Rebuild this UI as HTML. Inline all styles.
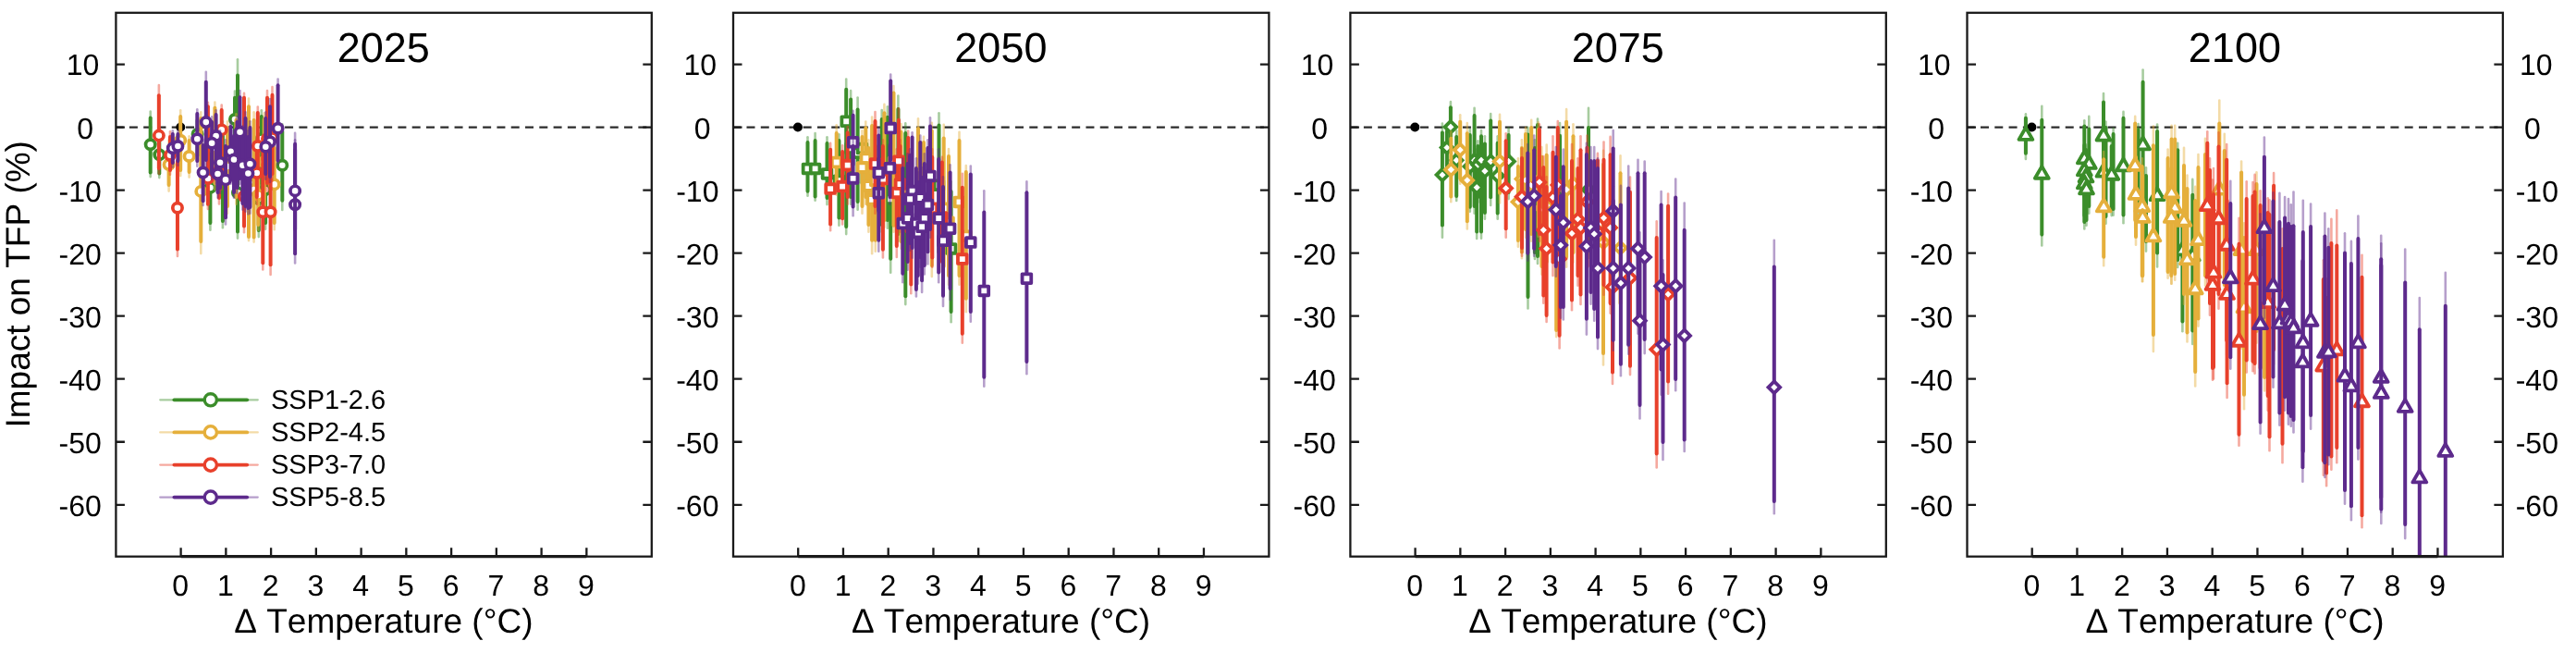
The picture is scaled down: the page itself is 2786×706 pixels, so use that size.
<!DOCTYPE html>
<html lang="en"><head><meta charset="utf-8"><title>Impact on TFP vs temperature</title>
<style>html,body{margin:0;padding:0;background:#fff}body{width:2786px;height:706px;overflow:hidden}svg{display:block;will-change:transform;font-kerning:none;text-rendering:geometricPrecision}</style></head>
<body>
<svg width="2786" height="706" viewBox="0 0 2786 706" font-family='"Liberation Sans", Arial, Helvetica, sans-serif' fill="#000">
<rect width="2786" height="706" fill="#fff"/>
<defs>
<clipPath id="c0"><rect x="125.4" y="13.8" width="579.4" height="587.9"/></clipPath>
<clipPath id="c1"><rect x="793" y="13.8" width="579.4" height="587.9"/></clipPath>
<clipPath id="c2"><rect x="1460.4" y="13.8" width="579.4" height="587.9"/></clipPath>
<clipPath id="c3"><rect x="2127.5" y="13.8" width="579.4" height="587.9"/></clipPath>
</defs>
<g clip-path="url(#c0)">
<line x1="125.4" y1="137.7" x2="704.8" y2="137.7" stroke="#2b2b2b" stroke-width="2.2" stroke-dasharray="9 6.29" stroke-dashoffset="0.8"/>
<circle cx="195.3" cy="137.5" r="5" fill="#000"/>
<line x1="162.7" y1="120.6" x2="162.7" y2="191.1" stroke="#3B8D2A" stroke-width="2.6" stroke-linecap="round" stroke-opacity="0.45"/>
<line x1="172.3" y1="143.3" x2="172.3" y2="192.1" stroke="#3B8D2A" stroke-width="2.6" stroke-linecap="round" stroke-opacity="0.45"/>
<line x1="213.6" y1="126.3" x2="213.6" y2="173.7" stroke="#3B8D2A" stroke-width="2.6" stroke-linecap="round" stroke-opacity="0.45"/>
<line x1="227.4" y1="151.3" x2="227.4" y2="248.7" stroke="#3B8D2A" stroke-width="2.6" stroke-linecap="round" stroke-opacity="0.45"/>
<line x1="240.9" y1="131.3" x2="240.9" y2="246.2" stroke="#3B8D2A" stroke-width="2.6" stroke-linecap="round" stroke-opacity="0.45"/>
<line x1="254" y1="98.6" x2="254" y2="170.7" stroke="#3B8D2A" stroke-width="2.6" stroke-linecap="round" stroke-opacity="0.45"/>
<line x1="257" y1="64.2" x2="257" y2="257.6" stroke="#3B8D2A" stroke-width="2.6" stroke-linecap="round" stroke-opacity="0.45"/>
<line x1="282.8" y1="119.3" x2="282.8" y2="203.7" stroke="#3B8D2A" stroke-width="2.6" stroke-linecap="round" stroke-opacity="0.45"/>
<line x1="279.8" y1="171.3" x2="279.8" y2="256.1" stroke="#3B8D2A" stroke-width="2.6" stroke-linecap="round" stroke-opacity="0.45"/>
<line x1="287.1" y1="161.3" x2="287.1" y2="247.7" stroke="#3B8D2A" stroke-width="2.6" stroke-linecap="round" stroke-opacity="0.45"/>
<line x1="305.3" y1="134.3" x2="305.3" y2="227" stroke="#3B8D2A" stroke-width="2.6" stroke-linecap="round" stroke-opacity="0.45"/>
<line x1="162.7" y1="127.6" x2="162.7" y2="186.5" stroke="#3B8D2A" stroke-width="4.0" stroke-linecap="round"/>
<line x1="172.3" y1="149" x2="172.3" y2="187.5" stroke="#3B8D2A" stroke-width="4.0" stroke-linecap="round"/>
<line x1="213.6" y1="130" x2="213.6" y2="168" stroke="#3B8D2A" stroke-width="4.0" stroke-linecap="round"/>
<line x1="227.4" y1="160" x2="227.4" y2="241" stroke="#3B8D2A" stroke-width="4.0" stroke-linecap="round"/>
<line x1="240.9" y1="140" x2="240.9" y2="239" stroke="#3B8D2A" stroke-width="4.0" stroke-linecap="round"/>
<line x1="254" y1="105.7" x2="254" y2="163" stroke="#3B8D2A" stroke-width="4.0" stroke-linecap="round"/>
<line x1="257" y1="81.4" x2="257" y2="250.5" stroke="#3B8D2A" stroke-width="4.0" stroke-linecap="round"/>
<line x1="282.8" y1="126" x2="282.8" y2="198" stroke="#3B8D2A" stroke-width="4.0" stroke-linecap="round"/>
<line x1="279.8" y1="182" x2="279.8" y2="249" stroke="#3B8D2A" stroke-width="4.0" stroke-linecap="round"/>
<line x1="287.1" y1="168" x2="287.1" y2="241" stroke="#3B8D2A" stroke-width="4.0" stroke-linecap="round"/>
<line x1="305.3" y1="142" x2="305.3" y2="216.8" stroke="#3B8D2A" stroke-width="4.0" stroke-linecap="round"/>
<circle cx="162.7" cy="156.3" r="5.15" fill="#fff" stroke="#3B8D2A" stroke-width="3.7"/>
<circle cx="172.3" cy="167.2" r="5.15" fill="#fff" stroke="#3B8D2A" stroke-width="3.7"/>
<circle cx="213.6" cy="144.9" r="5.15" fill="#fff" stroke="#3B8D2A" stroke-width="3.7"/>
<circle cx="227.4" cy="202.9" r="5.15" fill="#fff" stroke="#3B8D2A" stroke-width="3.7"/>
<circle cx="240.9" cy="185" r="5.15" fill="#fff" stroke="#3B8D2A" stroke-width="3.7"/>
<circle cx="254" cy="129" r="5.15" fill="#fff" stroke="#3B8D2A" stroke-width="3.7"/>
<circle cx="257" cy="208.4" r="5.15" fill="#fff" stroke="#3B8D2A" stroke-width="3.7"/>
<circle cx="282.8" cy="150" r="5.15" fill="#fff" stroke="#3B8D2A" stroke-width="3.7"/>
<circle cx="279.8" cy="215" r="5.15" fill="#fff" stroke="#3B8D2A" stroke-width="3.7"/>
<circle cx="287.1" cy="205" r="5.15" fill="#fff" stroke="#3B8D2A" stroke-width="3.7"/>
<circle cx="305.3" cy="178.8" r="5.15" fill="#fff" stroke="#3B8D2A" stroke-width="3.7"/>
<line x1="182.6" y1="151.3" x2="182.6" y2="206.6" stroke="#E5AF3B" stroke-width="2.6" stroke-linecap="round" stroke-opacity="0.45"/>
<line x1="195.2" y1="119.3" x2="195.2" y2="190.1" stroke="#E5AF3B" stroke-width="2.6" stroke-linecap="round" stroke-opacity="0.45"/>
<line x1="204.6" y1="147.2" x2="204.6" y2="191.6" stroke="#E5AF3B" stroke-width="2.6" stroke-linecap="round" stroke-opacity="0.45"/>
<line x1="217.3" y1="121.3" x2="217.3" y2="274.1" stroke="#E5AF3B" stroke-width="2.6" stroke-linecap="round" stroke-opacity="0.45"/>
<line x1="232.4" y1="110.5" x2="232.4" y2="204.7" stroke="#E5AF3B" stroke-width="2.6" stroke-linecap="round" stroke-opacity="0.45"/>
<line x1="246" y1="131.3" x2="246" y2="230.7" stroke="#E5AF3B" stroke-width="2.6" stroke-linecap="round" stroke-opacity="0.45"/>
<line x1="255.4" y1="123.3" x2="255.4" y2="220.7" stroke="#E5AF3B" stroke-width="2.6" stroke-linecap="round" stroke-opacity="0.45"/>
<line x1="269" y1="106.5" x2="269" y2="260.1" stroke="#E5AF3B" stroke-width="2.6" stroke-linecap="round" stroke-opacity="0.45"/>
<line x1="274.6" y1="121.3" x2="274.6" y2="261.6" stroke="#E5AF3B" stroke-width="2.6" stroke-linecap="round" stroke-opacity="0.45"/>
<line x1="279.3" y1="151.3" x2="279.3" y2="248.7" stroke="#E5AF3B" stroke-width="2.6" stroke-linecap="round" stroke-opacity="0.45"/>
<line x1="285.8" y1="122.3" x2="285.8" y2="230.7" stroke="#E5AF3B" stroke-width="2.6" stroke-linecap="round" stroke-opacity="0.45"/>
<line x1="296.7" y1="151.3" x2="296.7" y2="248.2" stroke="#E5AF3B" stroke-width="2.6" stroke-linecap="round" stroke-opacity="0.45"/>
<line x1="182.6" y1="158" x2="182.6" y2="199.9" stroke="#E5AF3B" stroke-width="4.0" stroke-linecap="round"/>
<line x1="195.2" y1="126" x2="195.2" y2="184" stroke="#E5AF3B" stroke-width="4.0" stroke-linecap="round"/>
<line x1="204.6" y1="152" x2="204.6" y2="186" stroke="#E5AF3B" stroke-width="4.0" stroke-linecap="round"/>
<line x1="217.3" y1="128" x2="217.3" y2="260.9" stroke="#E5AF3B" stroke-width="4.0" stroke-linecap="round"/>
<line x1="232.4" y1="116.7" x2="232.4" y2="198" stroke="#E5AF3B" stroke-width="4.0" stroke-linecap="round"/>
<line x1="246" y1="138" x2="246" y2="223" stroke="#E5AF3B" stroke-width="4.0" stroke-linecap="round"/>
<line x1="255.4" y1="130" x2="255.4" y2="213" stroke="#E5AF3B" stroke-width="4.0" stroke-linecap="round"/>
<line x1="269" y1="115.2" x2="269" y2="255.9" stroke="#E5AF3B" stroke-width="4.0" stroke-linecap="round"/>
<line x1="274.6" y1="130" x2="274.6" y2="256.4" stroke="#E5AF3B" stroke-width="4.0" stroke-linecap="round"/>
<line x1="279.3" y1="160" x2="279.3" y2="243" stroke="#E5AF3B" stroke-width="4.0" stroke-linecap="round"/>
<line x1="285.8" y1="129" x2="285.8" y2="223" stroke="#E5AF3B" stroke-width="4.0" stroke-linecap="round"/>
<line x1="296.7" y1="160" x2="296.7" y2="241" stroke="#E5AF3B" stroke-width="4.0" stroke-linecap="round"/>
<circle cx="182.6" cy="178" r="5.15" fill="#fff" stroke="#E5AF3B" stroke-width="3.7"/>
<circle cx="195.2" cy="151.8" r="5.15" fill="#fff" stroke="#E5AF3B" stroke-width="3.7"/>
<circle cx="204.6" cy="169" r="5.15" fill="#fff" stroke="#E5AF3B" stroke-width="3.7"/>
<circle cx="217.3" cy="206.9" r="5.15" fill="#fff" stroke="#E5AF3B" stroke-width="3.7"/>
<circle cx="232.4" cy="160" r="5.15" fill="#fff" stroke="#E5AF3B" stroke-width="3.7"/>
<circle cx="246" cy="180" r="5.15" fill="#fff" stroke="#E5AF3B" stroke-width="3.7"/>
<circle cx="255.4" cy="170" r="5.15" fill="#fff" stroke="#E5AF3B" stroke-width="3.7"/>
<circle cx="269" cy="190" r="5.15" fill="#fff" stroke="#E5AF3B" stroke-width="3.7"/>
<circle cx="274.6" cy="205" r="5.15" fill="#fff" stroke="#E5AF3B" stroke-width="3.7"/>
<circle cx="279.3" cy="210.9" r="5.15" fill="#fff" stroke="#E5AF3B" stroke-width="3.7"/>
<circle cx="285.8" cy="175" r="5.15" fill="#fff" stroke="#E5AF3B" stroke-width="3.7"/>
<circle cx="296.7" cy="199.4" r="5.15" fill="#fff" stroke="#E5AF3B" stroke-width="3.7"/>
<line x1="171.85" y1="92.1" x2="171.85" y2="187.7" stroke="#E8402B" stroke-width="2.6" stroke-linecap="round" stroke-opacity="0.45"/>
<line x1="184" y1="142.2" x2="184" y2="188.7" stroke="#E8402B" stroke-width="2.6" stroke-linecap="round" stroke-opacity="0.45"/>
<line x1="191.95" y1="166.3" x2="191.95" y2="277" stroke="#E8402B" stroke-width="2.6" stroke-linecap="round" stroke-opacity="0.45"/>
<line x1="224.9" y1="110.8" x2="224.9" y2="226" stroke="#E8402B" stroke-width="2.6" stroke-linecap="round" stroke-opacity="0.45"/>
<line x1="237" y1="151.3" x2="237" y2="220.5" stroke="#E8402B" stroke-width="2.6" stroke-linecap="round" stroke-opacity="0.45"/>
<line x1="239.7" y1="113.5" x2="239.7" y2="204.7" stroke="#E8402B" stroke-width="2.6" stroke-linecap="round" stroke-opacity="0.45"/>
<line x1="264" y1="100.8" x2="264" y2="251.2" stroke="#E8402B" stroke-width="2.6" stroke-linecap="round" stroke-opacity="0.45"/>
<line x1="278.8" y1="115.5" x2="278.8" y2="190.7" stroke="#E8402B" stroke-width="2.6" stroke-linecap="round" stroke-opacity="0.45"/>
<line x1="277.8" y1="151.3" x2="277.8" y2="220.7" stroke="#E8402B" stroke-width="2.6" stroke-linecap="round" stroke-opacity="0.45"/>
<line x1="284.3" y1="151.3" x2="284.3" y2="291.5" stroke="#E8402B" stroke-width="2.6" stroke-linecap="round" stroke-opacity="0.45"/>
<line x1="289" y1="98.1" x2="289" y2="206.7" stroke="#E8402B" stroke-width="2.6" stroke-linecap="round" stroke-opacity="0.45"/>
<line x1="292.6" y1="161.3" x2="292.6" y2="296.9" stroke="#E8402B" stroke-width="2.6" stroke-linecap="round" stroke-opacity="0.45"/>
<line x1="294.5" y1="94.1" x2="294.5" y2="195.7" stroke="#E8402B" stroke-width="2.6" stroke-linecap="round" stroke-opacity="0.45"/>
<line x1="171.85" y1="103.3" x2="171.85" y2="182" stroke="#E8402B" stroke-width="4.0" stroke-linecap="round"/>
<line x1="184" y1="148" x2="184" y2="184" stroke="#E8402B" stroke-width="4.0" stroke-linecap="round"/>
<line x1="191.95" y1="174" x2="191.95" y2="269.4" stroke="#E8402B" stroke-width="4.0" stroke-linecap="round"/>
<line x1="224.9" y1="115.2" x2="224.9" y2="220.8" stroke="#E8402B" stroke-width="4.0" stroke-linecap="round"/>
<line x1="237" y1="158" x2="237" y2="214" stroke="#E8402B" stroke-width="4.0" stroke-linecap="round"/>
<line x1="239.7" y1="119" x2="239.7" y2="198" stroke="#E8402B" stroke-width="4.0" stroke-linecap="round"/>
<line x1="264" y1="105.7" x2="264" y2="244.5" stroke="#E8402B" stroke-width="4.0" stroke-linecap="round"/>
<line x1="278.8" y1="122" x2="278.8" y2="183" stroke="#E8402B" stroke-width="4.0" stroke-linecap="round"/>
<line x1="277.8" y1="158" x2="277.8" y2="213" stroke="#E8402B" stroke-width="4.0" stroke-linecap="round"/>
<line x1="284.3" y1="162" x2="284.3" y2="284.3" stroke="#E8402B" stroke-width="4.0" stroke-linecap="round"/>
<line x1="289" y1="105.7" x2="289" y2="198" stroke="#E8402B" stroke-width="4.0" stroke-linecap="round"/>
<line x1="292.6" y1="174" x2="292.6" y2="286.3" stroke="#E8402B" stroke-width="4.0" stroke-linecap="round"/>
<line x1="294.5" y1="102.8" x2="294.5" y2="188" stroke="#E8402B" stroke-width="4.0" stroke-linecap="round"/>
<circle cx="171.85" cy="146.6" r="5.15" fill="#fff" stroke="#E8402B" stroke-width="3.7"/>
<circle cx="184" cy="167.7" r="5.15" fill="#fff" stroke="#E8402B" stroke-width="3.7"/>
<circle cx="191.95" cy="224.8" r="5.15" fill="#fff" stroke="#E8402B" stroke-width="3.7"/>
<circle cx="224.9" cy="192.9" r="5.15" fill="#fff" stroke="#E8402B" stroke-width="3.7"/>
<circle cx="237" cy="185" r="5.15" fill="#fff" stroke="#E8402B" stroke-width="3.7"/>
<circle cx="239.7" cy="140.4" r="5.15" fill="#fff" stroke="#E8402B" stroke-width="3.7"/>
<circle cx="264" cy="212.3" r="5.15" fill="#fff" stroke="#E8402B" stroke-width="3.7"/>
<circle cx="278.8" cy="158" r="5.15" fill="#fff" stroke="#E8402B" stroke-width="3.7"/>
<circle cx="277.8" cy="187" r="5.15" fill="#fff" stroke="#E8402B" stroke-width="3.7"/>
<circle cx="284.3" cy="229.3" r="5.15" fill="#fff" stroke="#E8402B" stroke-width="3.7"/>
<circle cx="289" cy="150" r="5.15" fill="#fff" stroke="#E8402B" stroke-width="3.7"/>
<circle cx="292.6" cy="229.3" r="5.15" fill="#fff" stroke="#E8402B" stroke-width="3.7"/>
<circle cx="294.5" cy="149" r="5.15" fill="#fff" stroke="#E8402B" stroke-width="3.7"/>
<line x1="319.1" y1="151.3" x2="319.1" y2="284.5" stroke="#5D2A8C" stroke-width="2.6" stroke-linecap="round" stroke-opacity="0.45"/>
<line x1="319.1" y1="162" x2="319.1" y2="274.3" stroke="#5D2A8C" stroke-width="4.0" stroke-linecap="round"/>
<circle cx="319.1" cy="221.3" r="5.15" fill="#fff" stroke="#5D2A8C" stroke-width="3.7"/>
<line x1="186.8" y1="141.3" x2="186.8" y2="180.7" stroke="#5D2A8C" stroke-width="2.6" stroke-linecap="round" stroke-opacity="0.45"/>
<line x1="192.4" y1="141.3" x2="192.4" y2="178.7" stroke="#5D2A8C" stroke-width="2.6" stroke-linecap="round" stroke-opacity="0.45"/>
<line x1="213.3" y1="118.3" x2="213.3" y2="179.7" stroke="#5D2A8C" stroke-width="2.6" stroke-linecap="round" stroke-opacity="0.45"/>
<line x1="222.8" y1="77.7" x2="222.8" y2="180.7" stroke="#5D2A8C" stroke-width="2.6" stroke-linecap="round" stroke-opacity="0.45"/>
<line x1="219.6" y1="151.3" x2="219.6" y2="222" stroke="#5D2A8C" stroke-width="2.6" stroke-linecap="round" stroke-opacity="0.45"/>
<line x1="233.6" y1="119.3" x2="233.6" y2="198.7" stroke="#5D2A8C" stroke-width="2.6" stroke-linecap="round" stroke-opacity="0.45"/>
<line x1="229.1" y1="126.3" x2="229.1" y2="193.7" stroke="#5D2A8C" stroke-width="2.6" stroke-linecap="round" stroke-opacity="0.45"/>
<line x1="265.5" y1="121.3" x2="265.5" y2="228.7" stroke="#5D2A8C" stroke-width="2.6" stroke-linecap="round" stroke-opacity="0.45"/>
<line x1="256.5" y1="126.3" x2="256.5" y2="208.7" stroke="#5D2A8C" stroke-width="2.6" stroke-linecap="round" stroke-opacity="0.45"/>
<line x1="259.5" y1="98.1" x2="259.5" y2="198.7" stroke="#5D2A8C" stroke-width="2.6" stroke-linecap="round" stroke-opacity="0.45"/>
<line x1="249.5" y1="131.3" x2="249.5" y2="198.7" stroke="#5D2A8C" stroke-width="2.6" stroke-linecap="round" stroke-opacity="0.45"/>
<line x1="253" y1="141.3" x2="253" y2="213.7" stroke="#5D2A8C" stroke-width="2.6" stroke-linecap="round" stroke-opacity="0.45"/>
<line x1="238" y1="141.3" x2="238" y2="208.7" stroke="#5D2A8C" stroke-width="2.6" stroke-linecap="round" stroke-opacity="0.45"/>
<line x1="262.4" y1="136.3" x2="262.4" y2="226.7" stroke="#5D2A8C" stroke-width="2.6" stroke-linecap="round" stroke-opacity="0.45"/>
<line x1="270.4" y1="131.3" x2="270.4" y2="230.7" stroke="#5D2A8C" stroke-width="2.6" stroke-linecap="round" stroke-opacity="0.45"/>
<line x1="268.4" y1="141.3" x2="268.4" y2="231.4" stroke="#5D2A8C" stroke-width="2.6" stroke-linecap="round" stroke-opacity="0.45"/>
<line x1="235.5" y1="151.3" x2="235.5" y2="213.7" stroke="#5D2A8C" stroke-width="2.6" stroke-linecap="round" stroke-opacity="0.45"/>
<line x1="244" y1="151.3" x2="244" y2="242.4" stroke="#5D2A8C" stroke-width="2.6" stroke-linecap="round" stroke-opacity="0.45"/>
<line x1="292" y1="107" x2="292" y2="196.7" stroke="#5D2A8C" stroke-width="2.6" stroke-linecap="round" stroke-opacity="0.45"/>
<line x1="287.3" y1="121.3" x2="287.3" y2="193.7" stroke="#5D2A8C" stroke-width="2.6" stroke-linecap="round" stroke-opacity="0.45"/>
<line x1="300.6" y1="85.6" x2="300.6" y2="177.7" stroke="#5D2A8C" stroke-width="2.6" stroke-linecap="round" stroke-opacity="0.45"/>
<line x1="319.1" y1="143.7" x2="319.1" y2="256.7" stroke="#5D2A8C" stroke-width="2.6" stroke-linecap="round" stroke-opacity="0.45"/>
<line x1="186.8" y1="145" x2="186.8" y2="176" stroke="#5D2A8C" stroke-width="4.0" stroke-linecap="round"/>
<line x1="192.4" y1="145" x2="192.4" y2="174" stroke="#5D2A8C" stroke-width="4.0" stroke-linecap="round"/>
<line x1="213.3" y1="123" x2="213.3" y2="174" stroke="#5D2A8C" stroke-width="4.0" stroke-linecap="round"/>
<line x1="222.8" y1="88.8" x2="222.8" y2="173" stroke="#5D2A8C" stroke-width="4.0" stroke-linecap="round"/>
<line x1="219.6" y1="157" x2="219.6" y2="217.3" stroke="#5D2A8C" stroke-width="4.0" stroke-linecap="round"/>
<line x1="233.6" y1="124" x2="233.6" y2="193" stroke="#5D2A8C" stroke-width="4.0" stroke-linecap="round"/>
<line x1="229.1" y1="132" x2="229.1" y2="188" stroke="#5D2A8C" stroke-width="4.0" stroke-linecap="round"/>
<line x1="265.5" y1="128" x2="265.5" y2="223" stroke="#5D2A8C" stroke-width="4.0" stroke-linecap="round"/>
<line x1="256.5" y1="132" x2="256.5" y2="203" stroke="#5D2A8C" stroke-width="4.0" stroke-linecap="round"/>
<line x1="259.5" y1="105.2" x2="259.5" y2="193" stroke="#5D2A8C" stroke-width="4.0" stroke-linecap="round"/>
<line x1="249.5" y1="137" x2="249.5" y2="194" stroke="#5D2A8C" stroke-width="4.0" stroke-linecap="round"/>
<line x1="253" y1="147" x2="253" y2="208" stroke="#5D2A8C" stroke-width="4.0" stroke-linecap="round"/>
<line x1="238" y1="147" x2="238" y2="203" stroke="#5D2A8C" stroke-width="4.0" stroke-linecap="round"/>
<line x1="262.4" y1="142" x2="262.4" y2="220" stroke="#5D2A8C" stroke-width="4.0" stroke-linecap="round"/>
<line x1="270.4" y1="138" x2="270.4" y2="224" stroke="#5D2A8C" stroke-width="4.0" stroke-linecap="round"/>
<line x1="268.4" y1="148" x2="268.4" y2="225" stroke="#5D2A8C" stroke-width="4.0" stroke-linecap="round"/>
<line x1="235.5" y1="157" x2="235.5" y2="208" stroke="#5D2A8C" stroke-width="4.0" stroke-linecap="round"/>
<line x1="244" y1="158" x2="244" y2="235.2" stroke="#5D2A8C" stroke-width="4.0" stroke-linecap="round"/>
<line x1="292" y1="115.2" x2="292" y2="191" stroke="#5D2A8C" stroke-width="4.0" stroke-linecap="round"/>
<line x1="287.3" y1="128" x2="287.3" y2="188" stroke="#5D2A8C" stroke-width="4.0" stroke-linecap="round"/>
<line x1="300.6" y1="92.3" x2="300.6" y2="173.5" stroke="#5D2A8C" stroke-width="4.0" stroke-linecap="round"/>
<line x1="319.1" y1="155.8" x2="319.1" y2="248" stroke="#5D2A8C" stroke-width="4.0" stroke-linecap="round"/>
<circle cx="186.8" cy="160.3" r="5.15" fill="#fff" stroke="#5D2A8C" stroke-width="3.7"/>
<circle cx="192.4" cy="158" r="5.15" fill="#fff" stroke="#5D2A8C" stroke-width="3.7"/>
<circle cx="213.3" cy="150.3" r="5.15" fill="#fff" stroke="#5D2A8C" stroke-width="3.7"/>
<circle cx="222.8" cy="132.1" r="5.15" fill="#fff" stroke="#5D2A8C" stroke-width="3.7"/>
<circle cx="219.6" cy="186.5" r="5.15" fill="#fff" stroke="#5D2A8C" stroke-width="3.7"/>
<circle cx="233.6" cy="147" r="5.15" fill="#fff" stroke="#5D2A8C" stroke-width="3.7"/>
<circle cx="229.1" cy="154.8" r="5.15" fill="#fff" stroke="#5D2A8C" stroke-width="3.7"/>
<circle cx="259.5" cy="142.7" r="5.15" fill="#fff" stroke="#5D2A8C" stroke-width="3.7"/>
<circle cx="249.5" cy="163.8" r="5.15" fill="#fff" stroke="#5D2A8C" stroke-width="3.7"/>
<circle cx="253" cy="172.5" r="5.15" fill="#fff" stroke="#5D2A8C" stroke-width="3.7"/>
<circle cx="238" cy="175.7" r="5.15" fill="#fff" stroke="#5D2A8C" stroke-width="3.7"/>
<circle cx="262.4" cy="178.7" r="5.15" fill="#fff" stroke="#5D2A8C" stroke-width="3.7"/>
<circle cx="270.4" cy="177.2" r="5.15" fill="#fff" stroke="#5D2A8C" stroke-width="3.7"/>
<circle cx="268.4" cy="187.5" r="5.15" fill="#fff" stroke="#5D2A8C" stroke-width="3.7"/>
<circle cx="235.5" cy="188" r="5.15" fill="#fff" stroke="#5D2A8C" stroke-width="3.7"/>
<circle cx="244" cy="194.4" r="5.15" fill="#fff" stroke="#5D2A8C" stroke-width="3.7"/>
<circle cx="292" cy="153.3" r="5.15" fill="#fff" stroke="#5D2A8C" stroke-width="3.7"/>
<circle cx="287.3" cy="158.8" r="5.15" fill="#fff" stroke="#5D2A8C" stroke-width="3.7"/>
<circle cx="300.6" cy="138.7" r="5.15" fill="#fff" stroke="#5D2A8C" stroke-width="3.7"/>
<circle cx="319.1" cy="206.4" r="5.15" fill="#fff" stroke="#5D2A8C" stroke-width="3.7"/>
</g>
<rect x="125.4" y="13.8" width="579.4" height="587.9" fill="none" stroke="#1a1a1a" stroke-width="2.3"/>
<line x1="195.6" y1="601.7" x2="634.35" y2="601.7" stroke="#1a1a1a" stroke-width="3.3"/>
<path d="M195.6 601.7v-9.5M244.35 601.7v-9.5M293.1 601.7v-9.5M341.85 601.7v-9.5M390.6 601.7v-9.5M439.35 601.7v-9.5M488.1 601.7v-9.5M536.85 601.7v-9.5M585.6 601.7v-9.5M634.35 601.7v-9.5M125.4 69.57h9.5M704.8 69.57h-9.5M125.4 137.6h9.5M704.8 137.6h-9.5M125.4 205.63h9.5M704.8 205.63h-9.5M125.4 273.66h9.5M704.8 273.66h-9.5M125.4 341.69h9.5M704.8 341.69h-9.5M125.4 409.72h9.5M704.8 409.72h-9.5M125.4 477.75h9.5M704.8 477.75h-9.5M125.4 545.78h9.5M704.8 545.78h-9.5" stroke="#1a1a1a" stroke-width="2.3" fill="none"/>
<g font-size="32"><text x="195.2" y="644" text-anchor="middle">0</text><text x="243.95" y="644" text-anchor="middle">1</text><text x="292.7" y="644" text-anchor="middle">2</text><text x="341.45" y="644" text-anchor="middle">3</text><text x="390.2" y="644" text-anchor="middle">4</text><text x="438.95" y="644" text-anchor="middle">5</text><text x="487.7" y="644" text-anchor="middle">6</text><text x="536.45" y="644" text-anchor="middle">7</text><text x="585.2" y="644" text-anchor="middle">8</text><text x="633.95" y="644" text-anchor="middle">9</text></g>
<g font-size="32"><text x="89.6" y="81.47" text-anchor="middle">10</text><text x="92.1" y="149.5" text-anchor="middle">0</text><text x="86.7" y="217.53" text-anchor="middle">-10</text><text x="86.7" y="285.56" text-anchor="middle">-20</text><text x="86.7" y="353.59" text-anchor="middle">-30</text><text x="86.7" y="421.62" text-anchor="middle">-40</text><text x="86.7" y="489.65" text-anchor="middle">-50</text><text x="86.7" y="557.68" text-anchor="middle">-60</text></g>
<text x="414.8" y="66.9" font-size="45" text-anchor="middle">2025</text>
<text x="414.9" y="684.4" font-size="37" text-anchor="middle">Δ Temperature (°C)</text>
<g clip-path="url(#c1)">
<line x1="793" y1="137.7" x2="1372.4" y2="137.7" stroke="#2b2b2b" stroke-width="2.2" stroke-dasharray="9 6.29" stroke-dashoffset="0.8"/>
<circle cx="862.9" cy="137.5" r="5" fill="#000"/>
<line x1="873.5" y1="148.3" x2="873.5" y2="211.8" stroke="#3B8D2A" stroke-width="2.6" stroke-linecap="round" stroke-opacity="0.45"/>
<line x1="881.6" y1="144" x2="881.6" y2="216.8" stroke="#3B8D2A" stroke-width="2.6" stroke-linecap="round" stroke-opacity="0.45"/>
<line x1="894.5" y1="148.3" x2="894.5" y2="221.1" stroke="#3B8D2A" stroke-width="2.6" stroke-linecap="round" stroke-opacity="0.45"/>
<line x1="907.4" y1="145.2" x2="907.4" y2="243.7" stroke="#3B8D2A" stroke-width="2.6" stroke-linecap="round" stroke-opacity="0.45"/>
<line x1="915.2" y1="85.6" x2="915.2" y2="253.1" stroke="#3B8D2A" stroke-width="2.6" stroke-linecap="round" stroke-opacity="0.45"/>
<line x1="920.1" y1="98" x2="920.1" y2="220.7" stroke="#3B8D2A" stroke-width="2.6" stroke-linecap="round" stroke-opacity="0.45"/>
<line x1="927.6" y1="105.5" x2="927.6" y2="226.7" stroke="#3B8D2A" stroke-width="2.6" stroke-linecap="round" stroke-opacity="0.45"/>
<line x1="932.5" y1="151.3" x2="932.5" y2="204.7" stroke="#3B8D2A" stroke-width="2.6" stroke-linecap="round" stroke-opacity="0.45"/>
<line x1="953.7" y1="119.1" x2="953.7" y2="250.7" stroke="#3B8D2A" stroke-width="2.6" stroke-linecap="round" stroke-opacity="0.45"/>
<line x1="959.9" y1="115.3" x2="959.9" y2="246.7" stroke="#3B8D2A" stroke-width="2.6" stroke-linecap="round" stroke-opacity="0.45"/>
<line x1="963.2" y1="151.3" x2="963.2" y2="294.7" stroke="#3B8D2A" stroke-width="2.6" stroke-linecap="round" stroke-opacity="0.45"/>
<line x1="971.4" y1="103.6" x2="971.4" y2="260.7" stroke="#3B8D2A" stroke-width="2.6" stroke-linecap="round" stroke-opacity="0.45"/>
<line x1="979.3" y1="133.4" x2="979.3" y2="329.1" stroke="#3B8D2A" stroke-width="2.6" stroke-linecap="round" stroke-opacity="0.45"/>
<line x1="1015.5" y1="122.2" x2="1015.5" y2="283.7" stroke="#3B8D2A" stroke-width="2.6" stroke-linecap="round" stroke-opacity="0.45"/>
<line x1="1028.6" y1="196.3" x2="1028.6" y2="348.3" stroke="#3B8D2A" stroke-width="2.6" stroke-linecap="round" stroke-opacity="0.45"/>
<line x1="873.5" y1="154" x2="873.5" y2="206.8" stroke="#3B8D2A" stroke-width="4.0" stroke-linecap="round"/>
<line x1="881.6" y1="152" x2="881.6" y2="212.4" stroke="#3B8D2A" stroke-width="4.0" stroke-linecap="round"/>
<line x1="894.5" y1="155" x2="894.5" y2="214" stroke="#3B8D2A" stroke-width="4.0" stroke-linecap="round"/>
<line x1="907.4" y1="152" x2="907.4" y2="235.6" stroke="#3B8D2A" stroke-width="4.0" stroke-linecap="round"/>
<line x1="915.2" y1="96.8" x2="915.2" y2="244.9" stroke="#3B8D2A" stroke-width="4.0" stroke-linecap="round"/>
<line x1="920.1" y1="107.4" x2="920.1" y2="213" stroke="#3B8D2A" stroke-width="4.0" stroke-linecap="round"/>
<line x1="927.6" y1="118.6" x2="927.6" y2="218" stroke="#3B8D2A" stroke-width="4.0" stroke-linecap="round"/>
<line x1="932.5" y1="157" x2="932.5" y2="198" stroke="#3B8D2A" stroke-width="4.0" stroke-linecap="round"/>
<line x1="953.7" y1="129.1" x2="953.7" y2="243" stroke="#3B8D2A" stroke-width="4.0" stroke-linecap="round"/>
<line x1="959.9" y1="126.7" x2="959.9" y2="238" stroke="#3B8D2A" stroke-width="4.0" stroke-linecap="round"/>
<line x1="963.2" y1="162" x2="963.2" y2="279.7" stroke="#3B8D2A" stroke-width="4.0" stroke-linecap="round"/>
<line x1="971.4" y1="118" x2="971.4" y2="253" stroke="#3B8D2A" stroke-width="4.0" stroke-linecap="round"/>
<line x1="979.3" y1="144" x2="979.3" y2="320.3" stroke="#3B8D2A" stroke-width="4.0" stroke-linecap="round"/>
<line x1="1015.5" y1="135.4" x2="1015.5" y2="273" stroke="#3B8D2A" stroke-width="4.0" stroke-linecap="round"/>
<line x1="1028.6" y1="207" x2="1028.6" y2="337.1" stroke="#3B8D2A" stroke-width="4.0" stroke-linecap="round"/>
<rect x="868.65" y="177.55" width="9.7" height="9.7" fill="#fff" stroke="#3B8D2A" stroke-width="3.8" stroke-linejoin="round"/>
<rect x="876.75" y="177.55" width="9.7" height="9.7" fill="#fff" stroke="#3B8D2A" stroke-width="3.8" stroke-linejoin="round"/>
<rect x="889.65" y="183.05" width="9.7" height="9.7" fill="#fff" stroke="#3B8D2A" stroke-width="3.8" stroke-linejoin="round"/>
<rect x="902.55" y="190.45" width="9.7" height="9.7" fill="#fff" stroke="#3B8D2A" stroke-width="3.8" stroke-linejoin="round"/>
<rect x="910.35" y="126.35" width="9.7" height="9.7" fill="#fff" stroke="#3B8D2A" stroke-width="3.8" stroke-linejoin="round"/>
<rect x="915.25" y="155.45" width="9.7" height="9.7" fill="#fff" stroke="#3B8D2A" stroke-width="3.8" stroke-linejoin="round"/>
<rect x="922.75" y="160.45" width="9.7" height="9.7" fill="#fff" stroke="#3B8D2A" stroke-width="3.8" stroke-linejoin="round"/>
<rect x="927.65" y="155.75" width="9.7" height="9.7" fill="#fff" stroke="#3B8D2A" stroke-width="3.8" stroke-linejoin="round"/>
<rect x="948.85" y="180.45" width="9.7" height="9.7" fill="#fff" stroke="#3B8D2A" stroke-width="3.8" stroke-linejoin="round"/>
<rect x="955.05" y="175.45" width="9.7" height="9.7" fill="#fff" stroke="#3B8D2A" stroke-width="3.8" stroke-linejoin="round"/>
<rect x="958.35" y="210.45" width="9.7" height="9.7" fill="#fff" stroke="#3B8D2A" stroke-width="3.8" stroke-linejoin="round"/>
<rect x="966.55" y="185.45" width="9.7" height="9.7" fill="#fff" stroke="#3B8D2A" stroke-width="3.8" stroke-linejoin="round"/>
<rect x="974.45" y="230.45" width="9.7" height="9.7" fill="#fff" stroke="#3B8D2A" stroke-width="3.8" stroke-linejoin="round"/>
<rect x="1010.65" y="195.45" width="9.7" height="9.7" fill="#fff" stroke="#3B8D2A" stroke-width="3.8" stroke-linejoin="round"/>
<rect x="1023.75" y="264.05" width="9.7" height="9.7" fill="#fff" stroke="#3B8D2A" stroke-width="3.8" stroke-linejoin="round"/>
<line x1="904.7" y1="135.3" x2="904.7" y2="210.7" stroke="#E5AF3B" stroke-width="2.6" stroke-linecap="round" stroke-opacity="0.45"/>
<line x1="936.3" y1="131.5" x2="936.3" y2="220.7" stroke="#E5AF3B" stroke-width="2.6" stroke-linecap="round" stroke-opacity="0.45"/>
<line x1="932.5" y1="141.3" x2="932.5" y2="230.7" stroke="#E5AF3B" stroke-width="2.6" stroke-linecap="round" stroke-opacity="0.45"/>
<line x1="943.1" y1="126.6" x2="943.1" y2="274.2" stroke="#E5AF3B" stroke-width="2.6" stroke-linecap="round" stroke-opacity="0.45"/>
<line x1="939.4" y1="151.3" x2="939.4" y2="250.7" stroke="#E5AF3B" stroke-width="2.6" stroke-linecap="round" stroke-opacity="0.45"/>
<line x1="946.8" y1="151.3" x2="946.8" y2="271.7" stroke="#E5AF3B" stroke-width="2.6" stroke-linecap="round" stroke-opacity="0.45"/>
<line x1="956.4" y1="112.9" x2="956.4" y2="245.7" stroke="#E5AF3B" stroke-width="2.6" stroke-linecap="round" stroke-opacity="0.45"/>
<line x1="966.5" y1="93" x2="966.5" y2="250.7" stroke="#E5AF3B" stroke-width="2.6" stroke-linecap="round" stroke-opacity="0.45"/>
<line x1="974.5" y1="134" x2="974.5" y2="268.7" stroke="#E5AF3B" stroke-width="2.6" stroke-linecap="round" stroke-opacity="0.45"/>
<line x1="993" y1="128.4" x2="993" y2="276.7" stroke="#E5AF3B" stroke-width="2.6" stroke-linecap="round" stroke-opacity="0.45"/>
<line x1="999" y1="147.7" x2="999" y2="270.7" stroke="#E5AF3B" stroke-width="2.6" stroke-linecap="round" stroke-opacity="0.45"/>
<line x1="1007.8" y1="132.8" x2="1007.8" y2="299" stroke="#E5AF3B" stroke-width="2.6" stroke-linecap="round" stroke-opacity="0.45"/>
<line x1="1020.7" y1="134.7" x2="1020.7" y2="298.7" stroke="#E5AF3B" stroke-width="2.6" stroke-linecap="round" stroke-opacity="0.45"/>
<line x1="1026" y1="161" x2="1026" y2="307.7" stroke="#E5AF3B" stroke-width="2.6" stroke-linecap="round" stroke-opacity="0.45"/>
<line x1="1037.5" y1="142.7" x2="1037.5" y2="307.7" stroke="#E5AF3B" stroke-width="2.6" stroke-linecap="round" stroke-opacity="0.45"/>
<line x1="1044.8" y1="179" x2="1044.8" y2="337.2" stroke="#E5AF3B" stroke-width="2.6" stroke-linecap="round" stroke-opacity="0.45"/>
<line x1="904.7" y1="144" x2="904.7" y2="203" stroke="#E5AF3B" stroke-width="4.0" stroke-linecap="round"/>
<line x1="936.3" y1="138.5" x2="936.3" y2="213" stroke="#E5AF3B" stroke-width="4.0" stroke-linecap="round"/>
<line x1="932.5" y1="148" x2="932.5" y2="223" stroke="#E5AF3B" stroke-width="4.0" stroke-linecap="round"/>
<line x1="943.1" y1="136" x2="943.1" y2="259.8" stroke="#E5AF3B" stroke-width="4.0" stroke-linecap="round"/>
<line x1="939.4" y1="160" x2="939.4" y2="243" stroke="#E5AF3B" stroke-width="4.0" stroke-linecap="round"/>
<line x1="946.8" y1="158" x2="946.8" y2="259.8" stroke="#E5AF3B" stroke-width="4.0" stroke-linecap="round"/>
<line x1="956.4" y1="122.3" x2="956.4" y2="238" stroke="#E5AF3B" stroke-width="4.0" stroke-linecap="round"/>
<line x1="966.5" y1="100.6" x2="966.5" y2="243.7" stroke="#E5AF3B" stroke-width="4.0" stroke-linecap="round"/>
<line x1="974.5" y1="142.8" x2="974.5" y2="261" stroke="#E5AF3B" stroke-width="4.0" stroke-linecap="round"/>
<line x1="993" y1="139.1" x2="993" y2="268" stroke="#E5AF3B" stroke-width="4.0" stroke-linecap="round"/>
<line x1="999" y1="154" x2="999" y2="263" stroke="#E5AF3B" stroke-width="4.0" stroke-linecap="round"/>
<line x1="1007.8" y1="141.6" x2="1007.8" y2="287.1" stroke="#E5AF3B" stroke-width="4.0" stroke-linecap="round"/>
<line x1="1020.7" y1="149.6" x2="1020.7" y2="288" stroke="#E5AF3B" stroke-width="4.0" stroke-linecap="round"/>
<line x1="1026" y1="169.1" x2="1026" y2="298" stroke="#E5AF3B" stroke-width="4.0" stroke-linecap="round"/>
<line x1="1037.5" y1="152" x2="1037.5" y2="298" stroke="#E5AF3B" stroke-width="4.0" stroke-linecap="round"/>
<line x1="1044.8" y1="185.9" x2="1044.8" y2="322.8" stroke="#E5AF3B" stroke-width="4.0" stroke-linecap="round"/>
<rect x="899.85" y="170.65" width="9.7" height="9.7" fill="#fff" stroke="#E5AF3B" stroke-width="3.8" stroke-linejoin="round"/>
<rect x="931.45" y="166.35" width="9.7" height="9.7" fill="#fff" stroke="#E5AF3B" stroke-width="3.8" stroke-linejoin="round"/>
<rect x="927.65" y="176.25" width="9.7" height="9.7" fill="#fff" stroke="#E5AF3B" stroke-width="3.8" stroke-linejoin="round"/>
<rect x="938.25" y="211.05" width="9.7" height="9.7" fill="#fff" stroke="#E5AF3B" stroke-width="3.8" stroke-linejoin="round"/>
<rect x="934.55" y="196.15" width="9.7" height="9.7" fill="#fff" stroke="#E5AF3B" stroke-width="3.8" stroke-linejoin="round"/>
<rect x="941.95" y="190.45" width="9.7" height="9.7" fill="#fff" stroke="#E5AF3B" stroke-width="3.8" stroke-linejoin="round"/>
<rect x="951.55" y="180.45" width="9.7" height="9.7" fill="#fff" stroke="#E5AF3B" stroke-width="3.8" stroke-linejoin="round"/>
<rect x="961.65" y="170.45" width="9.7" height="9.7" fill="#fff" stroke="#E5AF3B" stroke-width="3.8" stroke-linejoin="round"/>
<rect x="969.65" y="200.45" width="9.7" height="9.7" fill="#fff" stroke="#E5AF3B" stroke-width="3.8" stroke-linejoin="round"/>
<rect x="988.15" y="205.45" width="9.7" height="9.7" fill="#fff" stroke="#E5AF3B" stroke-width="3.8" stroke-linejoin="round"/>
<rect x="994.15" y="210.45" width="9.7" height="9.7" fill="#fff" stroke="#E5AF3B" stroke-width="3.8" stroke-linejoin="round"/>
<rect x="1002.95" y="225.45" width="9.7" height="9.7" fill="#fff" stroke="#E5AF3B" stroke-width="3.8" stroke-linejoin="round"/>
<rect x="1015.85" y="220.45" width="9.7" height="9.7" fill="#fff" stroke="#E5AF3B" stroke-width="3.8" stroke-linejoin="round"/>
<rect x="1021.15" y="235.45" width="9.7" height="9.7" fill="#fff" stroke="#E5AF3B" stroke-width="3.8" stroke-linejoin="round"/>
<rect x="1032.65" y="213.55" width="9.7" height="9.7" fill="#fff" stroke="#E5AF3B" stroke-width="3.8" stroke-linejoin="round"/>
<rect x="1039.95" y="250.45" width="9.7" height="9.7" fill="#fff" stroke="#E5AF3B" stroke-width="3.8" stroke-linejoin="round"/>
<line x1="898.1" y1="154.8" x2="898.1" y2="249.3" stroke="#E8402B" stroke-width="2.6" stroke-linecap="round" stroke-opacity="0.45"/>
<line x1="911.1" y1="157.3" x2="911.1" y2="242.5" stroke="#E8402B" stroke-width="2.6" stroke-linecap="round" stroke-opacity="0.45"/>
<line x1="916.7" y1="137.1" x2="916.7" y2="220.7" stroke="#E8402B" stroke-width="2.6" stroke-linecap="round" stroke-opacity="0.45"/>
<line x1="946.5" y1="121" x2="946.5" y2="230.7" stroke="#E8402B" stroke-width="2.6" stroke-linecap="round" stroke-opacity="0.45"/>
<line x1="954.9" y1="151.3" x2="954.9" y2="278.5" stroke="#E8402B" stroke-width="2.6" stroke-linecap="round" stroke-opacity="0.45"/>
<line x1="969.8" y1="161.3" x2="969.8" y2="277.9" stroke="#E8402B" stroke-width="2.6" stroke-linecap="round" stroke-opacity="0.45"/>
<line x1="971.9" y1="117.3" x2="971.9" y2="230.7" stroke="#E8402B" stroke-width="2.6" stroke-linecap="round" stroke-opacity="0.45"/>
<line x1="973.5" y1="151.3" x2="973.5" y2="250.7" stroke="#E8402B" stroke-width="2.6" stroke-linecap="round" stroke-opacity="0.45"/>
<line x1="982.2" y1="141.5" x2="982.2" y2="266.7" stroke="#E8402B" stroke-width="2.6" stroke-linecap="round" stroke-opacity="0.45"/>
<line x1="985.3" y1="166.3" x2="985.3" y2="317.3" stroke="#E8402B" stroke-width="2.6" stroke-linecap="round" stroke-opacity="0.45"/>
<line x1="1008.3" y1="161.3" x2="1008.3" y2="288.7" stroke="#E8402B" stroke-width="2.6" stroke-linecap="round" stroke-opacity="0.45"/>
<line x1="1018.9" y1="169.7" x2="1018.9" y2="293.7" stroke="#E8402B" stroke-width="2.6" stroke-linecap="round" stroke-opacity="0.45"/>
<line x1="1040.8" y1="187.7" x2="1040.8" y2="370.7" stroke="#E8402B" stroke-width="2.6" stroke-linecap="round" stroke-opacity="0.45"/>
<line x1="898.1" y1="161.7" x2="898.1" y2="242.4" stroke="#E8402B" stroke-width="4.0" stroke-linecap="round"/>
<line x1="911.1" y1="164" x2="911.1" y2="236.2" stroke="#E8402B" stroke-width="4.0" stroke-linecap="round"/>
<line x1="916.7" y1="143.4" x2="916.7" y2="213" stroke="#E8402B" stroke-width="4.0" stroke-linecap="round"/>
<line x1="946.5" y1="131" x2="946.5" y2="223" stroke="#E8402B" stroke-width="4.0" stroke-linecap="round"/>
<line x1="954.9" y1="158" x2="954.9" y2="269.8" stroke="#E8402B" stroke-width="4.0" stroke-linecap="round"/>
<line x1="969.8" y1="170" x2="969.8" y2="266" stroke="#E8402B" stroke-width="4.0" stroke-linecap="round"/>
<line x1="971.9" y1="129.8" x2="971.9" y2="223" stroke="#E8402B" stroke-width="4.0" stroke-linecap="round"/>
<line x1="973.5" y1="158" x2="973.5" y2="243" stroke="#E8402B" stroke-width="4.0" stroke-linecap="round"/>
<line x1="982.2" y1="149" x2="982.2" y2="258" stroke="#E8402B" stroke-width="4.0" stroke-linecap="round"/>
<line x1="985.3" y1="174" x2="985.3" y2="307.6" stroke="#E8402B" stroke-width="4.0" stroke-linecap="round"/>
<line x1="1008.3" y1="170" x2="1008.3" y2="278.4" stroke="#E8402B" stroke-width="4.0" stroke-linecap="round"/>
<line x1="1018.9" y1="175.4" x2="1018.9" y2="283" stroke="#E8402B" stroke-width="4.0" stroke-linecap="round"/>
<line x1="1040.8" y1="202.7" x2="1040.8" y2="360.7" stroke="#E8402B" stroke-width="4.0" stroke-linecap="round"/>
<rect x="893.25" y="199.25" width="9.7" height="9.7" fill="#fff" stroke="#E8402B" stroke-width="3.8" stroke-linejoin="round"/>
<rect x="906.25" y="196.75" width="9.7" height="9.7" fill="#fff" stroke="#E8402B" stroke-width="3.8" stroke-linejoin="round"/>
<rect x="911.85" y="173.75" width="9.7" height="9.7" fill="#fff" stroke="#E8402B" stroke-width="3.8" stroke-linejoin="round"/>
<rect x="941.65" y="172.25" width="9.7" height="9.7" fill="#fff" stroke="#E8402B" stroke-width="3.8" stroke-linejoin="round"/>
<rect x="950.05" y="188.65" width="9.7" height="9.7" fill="#fff" stroke="#E8402B" stroke-width="3.8" stroke-linejoin="round"/>
<rect x="964.95" y="203.55" width="9.7" height="9.7" fill="#fff" stroke="#E8402B" stroke-width="3.8" stroke-linejoin="round"/>
<rect x="967.05" y="169.45" width="9.7" height="9.7" fill="#fff" stroke="#E8402B" stroke-width="3.8" stroke-linejoin="round"/>
<rect x="968.65" y="194.25" width="9.7" height="9.7" fill="#fff" stroke="#E8402B" stroke-width="3.8" stroke-linejoin="round"/>
<rect x="977.35" y="210.45" width="9.7" height="9.7" fill="#fff" stroke="#E8402B" stroke-width="3.8" stroke-linejoin="round"/>
<rect x="980.45" y="240.45" width="9.7" height="9.7" fill="#fff" stroke="#E8402B" stroke-width="3.8" stroke-linejoin="round"/>
<rect x="1003.45" y="220.45" width="9.7" height="9.7" fill="#fff" stroke="#E8402B" stroke-width="3.8" stroke-linejoin="round"/>
<rect x="1014.05" y="230.45" width="9.7" height="9.7" fill="#fff" stroke="#E8402B" stroke-width="3.8" stroke-linejoin="round"/>
<rect x="1035.95" y="275.25" width="9.7" height="9.7" fill="#fff" stroke="#E8402B" stroke-width="3.8" stroke-linejoin="round"/>
<line x1="922.6" y1="119.7" x2="922.6" y2="183.7" stroke="#5D2A8C" stroke-width="2.6" stroke-linecap="round" stroke-opacity="0.45"/>
<line x1="950.3" y1="161.3" x2="950.3" y2="271.7" stroke="#5D2A8C" stroke-width="2.6" stroke-linecap="round" stroke-opacity="0.45"/>
<line x1="922.6" y1="124.8" x2="922.6" y2="178" stroke="#5D2A8C" stroke-width="4.0" stroke-linecap="round"/>
<line x1="950.3" y1="172" x2="950.3" y2="259.8" stroke="#5D2A8C" stroke-width="4.0" stroke-linecap="round"/>
<rect x="917.75" y="148.95" width="9.7" height="9.7" fill="#fff" stroke="#5D2A8C" stroke-width="3.8" stroke-linejoin="round"/>
<rect x="945.45" y="203.85" width="9.7" height="9.7" fill="#fff" stroke="#5D2A8C" stroke-width="3.8" stroke-linejoin="round"/>
<line x1="922.6" y1="151.3" x2="922.6" y2="233.2" stroke="#5D2A8C" stroke-width="2.6" stroke-linecap="round" stroke-opacity="0.45"/>
<line x1="950.3" y1="138.3" x2="950.3" y2="236.7" stroke="#5D2A8C" stroke-width="2.6" stroke-linecap="round" stroke-opacity="0.45"/>
<line x1="962.5" y1="151.3" x2="962.5" y2="220.7" stroke="#5D2A8C" stroke-width="2.6" stroke-linecap="round" stroke-opacity="0.45"/>
<line x1="963.2" y1="80.6" x2="963.2" y2="179.7" stroke="#5D2A8C" stroke-width="2.6" stroke-linecap="round" stroke-opacity="0.45"/>
<line x1="986.6" y1="143.3" x2="986.6" y2="278.7" stroke="#5D2A8C" stroke-width="2.6" stroke-linecap="round" stroke-opacity="0.45"/>
<line x1="995.3" y1="146.5" x2="995.3" y2="288.7" stroke="#5D2A8C" stroke-width="2.6" stroke-linecap="round" stroke-opacity="0.45"/>
<line x1="1003.4" y1="151.3" x2="1003.4" y2="285.4" stroke="#5D2A8C" stroke-width="2.6" stroke-linecap="round" stroke-opacity="0.45"/>
<line x1="1006" y1="127.2" x2="1006" y2="256.7" stroke="#5D2A8C" stroke-width="2.6" stroke-linecap="round" stroke-opacity="0.45"/>
<line x1="984.1" y1="161.3" x2="984.1" y2="270.7" stroke="#5D2A8C" stroke-width="2.6" stroke-linecap="round" stroke-opacity="0.45"/>
<line x1="976.3" y1="171.3" x2="976.3" y2="305.2" stroke="#5D2A8C" stroke-width="2.6" stroke-linecap="round" stroke-opacity="0.45"/>
<line x1="981.6" y1="166.3" x2="981.6" y2="291.7" stroke="#5D2A8C" stroke-width="2.6" stroke-linecap="round" stroke-opacity="0.45"/>
<line x1="990.9" y1="171.3" x2="990.9" y2="320.4" stroke="#5D2A8C" stroke-width="2.6" stroke-linecap="round" stroke-opacity="0.45"/>
<line x1="999.8" y1="166.3" x2="999.8" y2="296.5" stroke="#5D2A8C" stroke-width="2.6" stroke-linecap="round" stroke-opacity="0.45"/>
<line x1="992.8" y1="186.3" x2="992.8" y2="306.7" stroke="#5D2A8C" stroke-width="2.6" stroke-linecap="round" stroke-opacity="0.45"/>
<line x1="997.1" y1="181.3" x2="997.1" y2="316" stroke="#5D2A8C" stroke-width="2.6" stroke-linecap="round" stroke-opacity="0.45"/>
<line x1="1015.2" y1="161.3" x2="1015.2" y2="305.2" stroke="#5D2A8C" stroke-width="2.6" stroke-linecap="round" stroke-opacity="0.45"/>
<line x1="1027.6" y1="178.3" x2="1027.6" y2="324.1" stroke="#5D2A8C" stroke-width="2.6" stroke-linecap="round" stroke-opacity="0.45"/>
<line x1="1020" y1="191.3" x2="1020" y2="331" stroke="#5D2A8C" stroke-width="2.6" stroke-linecap="round" stroke-opacity="0.45"/>
<line x1="1049.8" y1="179.6" x2="1049.8" y2="347.7" stroke="#5D2A8C" stroke-width="2.6" stroke-linecap="round" stroke-opacity="0.45"/>
<line x1="1064.3" y1="206.3" x2="1064.3" y2="417.8" stroke="#5D2A8C" stroke-width="2.6" stroke-linecap="round" stroke-opacity="0.45"/>
<line x1="1110.4" y1="196.4" x2="1110.4" y2="404.2" stroke="#5D2A8C" stroke-width="2.6" stroke-linecap="round" stroke-opacity="0.45"/>
<line x1="922.6" y1="158" x2="922.6" y2="223.5" stroke="#5D2A8C" stroke-width="4.0" stroke-linecap="round"/>
<line x1="950.3" y1="146.5" x2="950.3" y2="228" stroke="#5D2A8C" stroke-width="4.0" stroke-linecap="round"/>
<line x1="962.5" y1="157" x2="962.5" y2="213" stroke="#5D2A8C" stroke-width="4.0" stroke-linecap="round"/>
<line x1="963.2" y1="87.5" x2="963.2" y2="173" stroke="#5D2A8C" stroke-width="4.0" stroke-linecap="round"/>
<line x1="986.6" y1="148.4" x2="986.6" y2="268" stroke="#5D2A8C" stroke-width="4.0" stroke-linecap="round"/>
<line x1="995.3" y1="154" x2="995.3" y2="278" stroke="#5D2A8C" stroke-width="4.0" stroke-linecap="round"/>
<line x1="1003.4" y1="160" x2="1003.4" y2="272.2" stroke="#5D2A8C" stroke-width="4.0" stroke-linecap="round"/>
<line x1="1006" y1="136.6" x2="1006" y2="248" stroke="#5D2A8C" stroke-width="4.0" stroke-linecap="round"/>
<line x1="984.1" y1="168" x2="984.1" y2="263" stroke="#5D2A8C" stroke-width="4.0" stroke-linecap="round"/>
<line x1="976.3" y1="182" x2="976.3" y2="295.8" stroke="#5D2A8C" stroke-width="4.0" stroke-linecap="round"/>
<line x1="981.6" y1="177" x2="981.6" y2="283" stroke="#5D2A8C" stroke-width="4.0" stroke-linecap="round"/>
<line x1="990.9" y1="182" x2="990.9" y2="312.9" stroke="#5D2A8C" stroke-width="4.0" stroke-linecap="round"/>
<line x1="999.8" y1="177" x2="999.8" y2="287.1" stroke="#5D2A8C" stroke-width="4.0" stroke-linecap="round"/>
<line x1="992.8" y1="197" x2="992.8" y2="298" stroke="#5D2A8C" stroke-width="4.0" stroke-linecap="round"/>
<line x1="997.1" y1="192" x2="997.1" y2="303.3" stroke="#5D2A8C" stroke-width="4.0" stroke-linecap="round"/>
<line x1="1015.2" y1="172" x2="1015.2" y2="294.6" stroke="#5D2A8C" stroke-width="4.0" stroke-linecap="round"/>
<line x1="1027.6" y1="186.5" x2="1027.6" y2="312" stroke="#5D2A8C" stroke-width="4.0" stroke-linecap="round"/>
<line x1="1020" y1="202" x2="1020" y2="319.7" stroke="#5D2A8C" stroke-width="4.0" stroke-linecap="round"/>
<line x1="1049.8" y1="188.4" x2="1049.8" y2="337.1" stroke="#5D2A8C" stroke-width="4.0" stroke-linecap="round"/>
<line x1="1064.3" y1="229.4" x2="1064.3" y2="407.8" stroke="#5D2A8C" stroke-width="4.0" stroke-linecap="round"/>
<line x1="1110.4" y1="208.3" x2="1110.4" y2="391" stroke="#5D2A8C" stroke-width="4.0" stroke-linecap="round"/>
<rect x="917.75" y="188.05" width="9.7" height="9.7" fill="#fff" stroke="#5D2A8C" stroke-width="3.8" stroke-linejoin="round"/>
<rect x="945.45" y="181.85" width="9.7" height="9.7" fill="#fff" stroke="#5D2A8C" stroke-width="3.8" stroke-linejoin="round"/>
<rect x="957.65" y="176.85" width="9.7" height="9.7" fill="#fff" stroke="#5D2A8C" stroke-width="3.8" stroke-linejoin="round"/>
<rect x="958.35" y="133.75" width="9.7" height="9.7" fill="#fff" stroke="#5D2A8C" stroke-width="3.8" stroke-linejoin="round"/>
<rect x="981.75" y="201.75" width="9.7" height="9.7" fill="#fff" stroke="#5D2A8C" stroke-width="3.8" stroke-linejoin="round"/>
<rect x="990.45" y="209.15" width="9.7" height="9.7" fill="#fff" stroke="#5D2A8C" stroke-width="3.8" stroke-linejoin="round"/>
<rect x="998.55" y="216.65" width="9.7" height="9.7" fill="#fff" stroke="#5D2A8C" stroke-width="3.8" stroke-linejoin="round"/>
<rect x="1001.15" y="185.55" width="9.7" height="9.7" fill="#fff" stroke="#5D2A8C" stroke-width="3.8" stroke-linejoin="round"/>
<rect x="979.25" y="210.45" width="9.7" height="9.7" fill="#fff" stroke="#5D2A8C" stroke-width="3.8" stroke-linejoin="round"/>
<rect x="971.45" y="236.75" width="9.7" height="9.7" fill="#fff" stroke="#5D2A8C" stroke-width="3.8" stroke-linejoin="round"/>
<rect x="976.75" y="231.15" width="9.7" height="9.7" fill="#fff" stroke="#5D2A8C" stroke-width="3.8" stroke-linejoin="round"/>
<rect x="986.05" y="236.75" width="9.7" height="9.7" fill="#fff" stroke="#5D2A8C" stroke-width="3.8" stroke-linejoin="round"/>
<rect x="994.95" y="231.15" width="9.7" height="9.7" fill="#fff" stroke="#5D2A8C" stroke-width="3.8" stroke-linejoin="round"/>
<rect x="987.95" y="246.75" width="9.7" height="9.7" fill="#fff" stroke="#5D2A8C" stroke-width="3.8" stroke-linejoin="round"/>
<rect x="992.25" y="240.45" width="9.7" height="9.7" fill="#fff" stroke="#5D2A8C" stroke-width="3.8" stroke-linejoin="round"/>
<rect x="1010.35" y="231.15" width="9.7" height="9.7" fill="#fff" stroke="#5D2A8C" stroke-width="3.8" stroke-linejoin="round"/>
<rect x="1022.75" y="242.35" width="9.7" height="9.7" fill="#fff" stroke="#5D2A8C" stroke-width="3.8" stroke-linejoin="round"/>
<rect x="1015.15" y="255.45" width="9.7" height="9.7" fill="#fff" stroke="#5D2A8C" stroke-width="3.8" stroke-linejoin="round"/>
<rect x="1044.95" y="257.25" width="9.7" height="9.7" fill="#fff" stroke="#5D2A8C" stroke-width="3.8" stroke-linejoin="round"/>
<rect x="1059.45" y="309.55" width="9.7" height="9.7" fill="#fff" stroke="#5D2A8C" stroke-width="3.8" stroke-linejoin="round"/>
<rect x="1105.55" y="296.35" width="9.7" height="9.7" fill="#fff" stroke="#5D2A8C" stroke-width="3.8" stroke-linejoin="round"/>
</g>
<rect x="793" y="13.8" width="579.4" height="587.9" fill="none" stroke="#1a1a1a" stroke-width="2.3"/>
<line x1="863.2" y1="601.7" x2="1301.95" y2="601.7" stroke="#1a1a1a" stroke-width="3.3"/>
<path d="M863.2 601.7v-9.5M911.95 601.7v-9.5M960.7 601.7v-9.5M1009.45 601.7v-9.5M1058.2 601.7v-9.5M1106.95 601.7v-9.5M1155.7 601.7v-9.5M1204.45 601.7v-9.5M1253.2 601.7v-9.5M1301.95 601.7v-9.5M793 69.57h9.5M1372.4 69.57h-9.5M793 137.6h9.5M1372.4 137.6h-9.5M793 205.63h9.5M1372.4 205.63h-9.5M793 273.66h9.5M1372.4 273.66h-9.5M793 341.69h9.5M1372.4 341.69h-9.5M793 409.72h9.5M1372.4 409.72h-9.5M793 477.75h9.5M1372.4 477.75h-9.5M793 545.78h9.5M1372.4 545.78h-9.5" stroke="#1a1a1a" stroke-width="2.3" fill="none"/>
<g font-size="32"><text x="862.8" y="644" text-anchor="middle">0</text><text x="911.55" y="644" text-anchor="middle">1</text><text x="960.3" y="644" text-anchor="middle">2</text><text x="1009.05" y="644" text-anchor="middle">3</text><text x="1057.8" y="644" text-anchor="middle">4</text><text x="1106.55" y="644" text-anchor="middle">5</text><text x="1155.3" y="644" text-anchor="middle">6</text><text x="1204.05" y="644" text-anchor="middle">7</text><text x="1252.8" y="644" text-anchor="middle">8</text><text x="1301.55" y="644" text-anchor="middle">9</text></g>
<g font-size="32"><text x="757.2" y="81.47" text-anchor="middle">10</text><text x="759.7" y="149.5" text-anchor="middle">0</text><text x="754.3" y="217.53" text-anchor="middle">-10</text><text x="754.3" y="285.56" text-anchor="middle">-20</text><text x="754.3" y="353.59" text-anchor="middle">-30</text><text x="754.3" y="421.62" text-anchor="middle">-40</text><text x="754.3" y="489.65" text-anchor="middle">-50</text><text x="754.3" y="557.68" text-anchor="middle">-60</text></g>
<text x="1082.4" y="66.9" font-size="45" text-anchor="middle">2050</text>
<text x="1082.5" y="684.4" font-size="37" text-anchor="middle">Δ Temperature (°C)</text>
<g clip-path="url(#c2)">
<line x1="1460.4" y1="137.7" x2="2039.8" y2="137.7" stroke="#2b2b2b" stroke-width="2.2" stroke-dasharray="9 6.29" stroke-dashoffset="0.8"/>
<circle cx="1530.3" cy="137.5" r="5" fill="#000"/>
<line x1="1559.9" y1="133.6" x2="1559.9" y2="256.7" stroke="#3B8D2A" stroke-width="2.6" stroke-linecap="round" stroke-opacity="0.45"/>
<line x1="1564.9" y1="136.3" x2="1564.9" y2="188.7" stroke="#3B8D2A" stroke-width="2.6" stroke-linecap="round" stroke-opacity="0.45"/>
<line x1="1568.9" y1="110" x2="1568.9" y2="170.7" stroke="#3B8D2A" stroke-width="2.6" stroke-linecap="round" stroke-opacity="0.45"/>
<line x1="1575.2" y1="141.3" x2="1575.2" y2="217" stroke="#3B8D2A" stroke-width="2.6" stroke-linecap="round" stroke-opacity="0.45"/>
<line x1="1589.8" y1="139.8" x2="1589.8" y2="228.7" stroke="#3B8D2A" stroke-width="2.6" stroke-linecap="round" stroke-opacity="0.45"/>
<line x1="1594.6" y1="116.8" x2="1594.6" y2="230.7" stroke="#3B8D2A" stroke-width="2.6" stroke-linecap="round" stroke-opacity="0.45"/>
<line x1="1597.2" y1="161.3" x2="1597.2" y2="258" stroke="#3B8D2A" stroke-width="2.6" stroke-linecap="round" stroke-opacity="0.45"/>
<line x1="1598.4" y1="152.3" x2="1598.4" y2="218.7" stroke="#3B8D2A" stroke-width="2.6" stroke-linecap="round" stroke-opacity="0.45"/>
<line x1="1602" y1="141.1" x2="1602" y2="257.7" stroke="#3B8D2A" stroke-width="2.6" stroke-linecap="round" stroke-opacity="0.45"/>
<line x1="1605.9" y1="147.3" x2="1605.9" y2="236.8" stroke="#3B8D2A" stroke-width="2.6" stroke-linecap="round" stroke-opacity="0.45"/>
<line x1="1612.2" y1="123" x2="1612.2" y2="221.9" stroke="#3B8D2A" stroke-width="2.6" stroke-linecap="round" stroke-opacity="0.45"/>
<line x1="1619.7" y1="147.3" x2="1619.7" y2="236.8" stroke="#3B8D2A" stroke-width="2.6" stroke-linecap="round" stroke-opacity="0.45"/>
<line x1="1631.6" y1="138.6" x2="1631.6" y2="215.1" stroke="#3B8D2A" stroke-width="2.6" stroke-linecap="round" stroke-opacity="0.45"/>
<line x1="1652.5" y1="137.9" x2="1652.5" y2="333.4" stroke="#3B8D2A" stroke-width="2.6" stroke-linecap="round" stroke-opacity="0.45"/>
<line x1="1659.9" y1="151.3" x2="1659.9" y2="280" stroke="#3B8D2A" stroke-width="2.6" stroke-linecap="round" stroke-opacity="0.45"/>
<line x1="1663" y1="128.6" x2="1663" y2="284.9" stroke="#3B8D2A" stroke-width="2.6" stroke-linecap="round" stroke-opacity="0.45"/>
<line x1="1687" y1="133" x2="1687" y2="266.7" stroke="#3B8D2A" stroke-width="2.6" stroke-linecap="round" stroke-opacity="0.45"/>
<line x1="1718" y1="116.8" x2="1718" y2="278.7" stroke="#3B8D2A" stroke-width="2.6" stroke-linecap="round" stroke-opacity="0.45"/>
<line x1="1559.9" y1="143.6" x2="1559.9" y2="243.6" stroke="#3B8D2A" stroke-width="4.0" stroke-linecap="round"/>
<line x1="1564.9" y1="142" x2="1564.9" y2="183" stroke="#3B8D2A" stroke-width="4.0" stroke-linecap="round"/>
<line x1="1568.9" y1="116.3" x2="1568.9" y2="163" stroke="#3B8D2A" stroke-width="4.0" stroke-linecap="round"/>
<line x1="1575.2" y1="148" x2="1575.2" y2="211.9" stroke="#3B8D2A" stroke-width="4.0" stroke-linecap="round"/>
<line x1="1589.8" y1="146" x2="1589.8" y2="223.7" stroke="#3B8D2A" stroke-width="4.0" stroke-linecap="round"/>
<line x1="1594.6" y1="125" x2="1594.6" y2="223" stroke="#3B8D2A" stroke-width="4.0" stroke-linecap="round"/>
<line x1="1597.2" y1="170" x2="1597.2" y2="250.4" stroke="#3B8D2A" stroke-width="4.0" stroke-linecap="round"/>
<line x1="1598.4" y1="158" x2="1598.4" y2="213" stroke="#3B8D2A" stroke-width="4.0" stroke-linecap="round"/>
<line x1="1602" y1="147.3" x2="1602" y2="250.4" stroke="#3B8D2A" stroke-width="4.0" stroke-linecap="round"/>
<line x1="1605.9" y1="155.4" x2="1605.9" y2="229.9" stroke="#3B8D2A" stroke-width="4.0" stroke-linecap="round"/>
<line x1="1612.2" y1="130.6" x2="1612.2" y2="213.2" stroke="#3B8D2A" stroke-width="4.0" stroke-linecap="round"/>
<line x1="1619.7" y1="154.8" x2="1619.7" y2="230.6" stroke="#3B8D2A" stroke-width="4.0" stroke-linecap="round"/>
<line x1="1631.6" y1="146.1" x2="1631.6" y2="208" stroke="#3B8D2A" stroke-width="4.0" stroke-linecap="round"/>
<line x1="1652.5" y1="145.5" x2="1652.5" y2="320.9" stroke="#3B8D2A" stroke-width="4.0" stroke-linecap="round"/>
<line x1="1659.9" y1="160" x2="1659.9" y2="273" stroke="#3B8D2A" stroke-width="4.0" stroke-linecap="round"/>
<line x1="1663" y1="134.9" x2="1663" y2="277" stroke="#3B8D2A" stroke-width="4.0" stroke-linecap="round"/>
<line x1="1687" y1="146.7" x2="1687" y2="258" stroke="#3B8D2A" stroke-width="4.0" stroke-linecap="round"/>
<line x1="1718" y1="138" x2="1718" y2="268" stroke="#3B8D2A" stroke-width="4.0" stroke-linecap="round"/>
<path d="M1559.9 182.8L1566.2 189.1L1559.9 195.4L1553.6 189.1Z" fill="#fff" stroke="#3B8D2A" stroke-width="3.8"/>
<path d="M1564.9 153.3L1571.2 159.6L1564.9 165.9L1558.6 159.6Z" fill="#fff" stroke="#3B8D2A" stroke-width="3.8"/>
<path d="M1568.9 131L1575.2 137.3L1568.9 143.6L1562.6 137.3Z" fill="#fff" stroke="#3B8D2A" stroke-width="3.8"/>
<path d="M1575.2 167L1581.5 173.3L1575.2 179.6L1568.9 173.3Z" fill="#fff" stroke="#3B8D2A" stroke-width="3.8"/>
<path d="M1589.8 173.7L1596.1 180L1589.8 186.3L1583.5 180Z" fill="#fff" stroke="#3B8D2A" stroke-width="3.8"/>
<path d="M1594.6 167L1600.9 173.3L1594.6 179.6L1588.3 173.3Z" fill="#fff" stroke="#3B8D2A" stroke-width="3.8"/>
<path d="M1597.2 196.4L1603.5 202.7L1597.2 209L1590.9 202.7Z" fill="#fff" stroke="#3B8D2A" stroke-width="3.8"/>
<path d="M1598.4 171.7L1604.7 178L1598.4 184.3L1592.1 178Z" fill="#fff" stroke="#3B8D2A" stroke-width="3.8"/>
<path d="M1602 167L1608.3 173.3L1602 179.6L1595.7 173.3Z" fill="#fff" stroke="#3B8D2A" stroke-width="3.8"/>
<path d="M1605.9 178.7L1612.2 185L1605.9 191.3L1599.6 185Z" fill="#fff" stroke="#3B8D2A" stroke-width="3.8"/>
<path d="M1612.2 168.2L1618.5 174.5L1612.2 180.8L1605.9 174.5Z" fill="#fff" stroke="#3B8D2A" stroke-width="3.8"/>
<path d="M1619.7 183.7L1626 190L1619.7 196.3L1613.4 190Z" fill="#fff" stroke="#3B8D2A" stroke-width="3.8"/>
<path d="M1631.6 168.2L1637.9 174.5L1631.6 180.8L1625.3 174.5Z" fill="#fff" stroke="#3B8D2A" stroke-width="3.8"/>
<path d="M1652.5 208.7L1658.8 215L1652.5 221.3L1646.2 215Z" fill="#fff" stroke="#3B8D2A" stroke-width="3.8"/>
<path d="M1659.9 203.7L1666.2 210L1659.9 216.3L1653.6 210Z" fill="#fff" stroke="#3B8D2A" stroke-width="3.8"/>
<path d="M1663 198.7L1669.3 205L1663 211.3L1656.7 205Z" fill="#fff" stroke="#3B8D2A" stroke-width="3.8"/>
<path d="M1687 193.7L1693.3 200L1687 206.3L1680.7 200Z" fill="#fff" stroke="#3B8D2A" stroke-width="3.8"/>
<path d="M1718 198.7L1724.3 205L1718 211.3L1711.7 205Z" fill="#fff" stroke="#3B8D2A" stroke-width="3.8"/>
<line x1="1569.3" y1="142.3" x2="1569.3" y2="218.2" stroke="#E5AF3B" stroke-width="2.6" stroke-linecap="round" stroke-opacity="0.45"/>
<line x1="1579.2" y1="124.3" x2="1579.2" y2="198.7" stroke="#E5AF3B" stroke-width="2.6" stroke-linecap="round" stroke-opacity="0.45"/>
<line x1="1586.8" y1="133" x2="1586.8" y2="247.4" stroke="#E5AF3B" stroke-width="2.6" stroke-linecap="round" stroke-opacity="0.45"/>
<line x1="1622" y1="123.7" x2="1622" y2="219.5" stroke="#E5AF3B" stroke-width="2.6" stroke-linecap="round" stroke-opacity="0.45"/>
<line x1="1645.9" y1="151.3" x2="1645.9" y2="279.3" stroke="#E5AF3B" stroke-width="2.6" stroke-linecap="round" stroke-opacity="0.45"/>
<line x1="1641.9" y1="171.3" x2="1641.9" y2="266.7" stroke="#E5AF3B" stroke-width="2.6" stroke-linecap="round" stroke-opacity="0.45"/>
<line x1="1650" y1="137.9" x2="1650" y2="256.7" stroke="#E5AF3B" stroke-width="2.6" stroke-linecap="round" stroke-opacity="0.45"/>
<line x1="1656.2" y1="129.9" x2="1656.2" y2="260.7" stroke="#E5AF3B" stroke-width="2.6" stroke-linecap="round" stroke-opacity="0.45"/>
<line x1="1663.7" y1="132.3" x2="1663.7" y2="255.7" stroke="#E5AF3B" stroke-width="2.6" stroke-linecap="round" stroke-opacity="0.45"/>
<line x1="1667.4" y1="159.1" x2="1667.4" y2="296.7" stroke="#E5AF3B" stroke-width="2.6" stroke-linecap="round" stroke-opacity="0.45"/>
<line x1="1672.7" y1="156.6" x2="1672.7" y2="290.7" stroke="#E5AF3B" stroke-width="2.6" stroke-linecap="round" stroke-opacity="0.45"/>
<line x1="1683.2" y1="201.3" x2="1683.2" y2="364.1" stroke="#E5AF3B" stroke-width="2.6" stroke-linecap="round" stroke-opacity="0.45"/>
<line x1="1694.1" y1="118.1" x2="1694.1" y2="288.7" stroke="#E5AF3B" stroke-width="2.6" stroke-linecap="round" stroke-opacity="0.45"/>
<line x1="1701.5" y1="134.2" x2="1701.5" y2="283.7" stroke="#E5AF3B" stroke-width="2.6" stroke-linecap="round" stroke-opacity="0.45"/>
<line x1="1734" y1="162.8" x2="1734" y2="394.5" stroke="#E5AF3B" stroke-width="2.6" stroke-linecap="round" stroke-opacity="0.45"/>
<line x1="1752.5" y1="168.4" x2="1752.5" y2="338.7" stroke="#E5AF3B" stroke-width="2.6" stroke-linecap="round" stroke-opacity="0.45"/>
<line x1="1569.3" y1="149.8" x2="1569.3" y2="212.5" stroke="#E5AF3B" stroke-width="4.0" stroke-linecap="round"/>
<line x1="1579.2" y1="131.8" x2="1579.2" y2="193" stroke="#E5AF3B" stroke-width="4.0" stroke-linecap="round"/>
<line x1="1586.8" y1="144.2" x2="1586.8" y2="239.2" stroke="#E5AF3B" stroke-width="4.0" stroke-linecap="round"/>
<line x1="1622" y1="131.8" x2="1622" y2="208.8" stroke="#E5AF3B" stroke-width="4.0" stroke-linecap="round"/>
<line x1="1645.9" y1="160" x2="1645.9" y2="272.4" stroke="#E5AF3B" stroke-width="4.0" stroke-linecap="round"/>
<line x1="1641.9" y1="180" x2="1641.9" y2="260" stroke="#E5AF3B" stroke-width="4.0" stroke-linecap="round"/>
<line x1="1650" y1="144.9" x2="1650" y2="248" stroke="#E5AF3B" stroke-width="4.0" stroke-linecap="round"/>
<line x1="1656.2" y1="138" x2="1656.2" y2="253" stroke="#E5AF3B" stroke-width="4.0" stroke-linecap="round"/>
<line x1="1663.7" y1="140" x2="1663.7" y2="248" stroke="#E5AF3B" stroke-width="4.0" stroke-linecap="round"/>
<line x1="1667.4" y1="169.7" x2="1667.4" y2="288" stroke="#E5AF3B" stroke-width="4.0" stroke-linecap="round"/>
<line x1="1672.7" y1="167.8" x2="1672.7" y2="283" stroke="#E5AF3B" stroke-width="4.0" stroke-linecap="round"/>
<line x1="1683.2" y1="212" x2="1683.2" y2="357" stroke="#E5AF3B" stroke-width="4.0" stroke-linecap="round"/>
<line x1="1694.1" y1="131.8" x2="1694.1" y2="278" stroke="#E5AF3B" stroke-width="4.0" stroke-linecap="round"/>
<line x1="1701.5" y1="147.3" x2="1701.5" y2="273" stroke="#E5AF3B" stroke-width="4.0" stroke-linecap="round"/>
<line x1="1734" y1="177.8" x2="1734" y2="382" stroke="#E5AF3B" stroke-width="4.0" stroke-linecap="round"/>
<line x1="1752.5" y1="187.3" x2="1752.5" y2="328" stroke="#E5AF3B" stroke-width="4.0" stroke-linecap="round"/>
<path d="M1569.3 177.2L1575.6 183.5L1569.3 189.8L1563 183.5Z" fill="#fff" stroke="#E5AF3B" stroke-width="3.8"/>
<path d="M1579.2 155.8L1585.5 162.1L1579.2 168.4L1572.9 162.1Z" fill="#fff" stroke="#E5AF3B" stroke-width="3.8"/>
<path d="M1586.8 188.6L1593.1 194.9L1586.8 201.2L1580.5 194.9Z" fill="#fff" stroke="#E5AF3B" stroke-width="3.8"/>
<path d="M1622 168.2L1628.3 174.5L1622 180.8L1615.7 174.5Z" fill="#fff" stroke="#E5AF3B" stroke-width="3.8"/>
<path d="M1645.9 187.1L1652.2 193.4L1645.9 199.7L1639.6 193.4Z" fill="#fff" stroke="#E5AF3B" stroke-width="3.8"/>
<path d="M1641.9 212L1648.2 218.3L1641.9 224.6L1635.6 218.3Z" fill="#fff" stroke="#E5AF3B" stroke-width="3.8"/>
<path d="M1650 188.7L1656.3 195L1650 201.3L1643.7 195Z" fill="#fff" stroke="#E5AF3B" stroke-width="3.8"/>
<path d="M1656.2 193.7L1662.5 200L1656.2 206.3L1649.9 200Z" fill="#fff" stroke="#E5AF3B" stroke-width="3.8"/>
<path d="M1663.7 189.7L1670 196L1663.7 202.3L1657.4 196Z" fill="#fff" stroke="#E5AF3B" stroke-width="3.8"/>
<path d="M1667.4 218.7L1673.7 225L1667.4 231.3L1661.1 225Z" fill="#fff" stroke="#E5AF3B" stroke-width="3.8"/>
<path d="M1672.7 215.7L1679 222L1672.7 228.3L1666.4 222Z" fill="#fff" stroke="#E5AF3B" stroke-width="3.8"/>
<path d="M1683.2 263.7L1689.5 270L1683.2 276.3L1676.9 270Z" fill="#fff" stroke="#E5AF3B" stroke-width="3.8"/>
<path d="M1694.1 198.7L1700.4 205L1694.1 211.3L1687.8 205Z" fill="#fff" stroke="#E5AF3B" stroke-width="3.8"/>
<path d="M1701.5 192.1L1707.8 198.4L1701.5 204.7L1695.2 198.4Z" fill="#fff" stroke="#E5AF3B" stroke-width="3.8"/>
<path d="M1734 255.7L1740.3 262L1734 268.3L1727.7 262Z" fill="#fff" stroke="#E5AF3B" stroke-width="3.8"/>
<path d="M1752.5 261.7L1758.8 268L1752.5 274.3L1746.2 268Z" fill="#fff" stroke="#E5AF3B" stroke-width="3.8"/>
<line x1="1628.7" y1="144.2" x2="1628.7" y2="256.7" stroke="#E8402B" stroke-width="2.6" stroke-linecap="round" stroke-opacity="0.45"/>
<line x1="1646" y1="160.3" x2="1646" y2="276.7" stroke="#E8402B" stroke-width="2.6" stroke-linecap="round" stroke-opacity="0.45"/>
<line x1="1664.9" y1="134.2" x2="1664.9" y2="260.7" stroke="#E8402B" stroke-width="2.6" stroke-linecap="round" stroke-opacity="0.45"/>
<line x1="1669.3" y1="169" x2="1669.3" y2="327.7" stroke="#E8402B" stroke-width="2.6" stroke-linecap="round" stroke-opacity="0.45"/>
<line x1="1672.6" y1="191.3" x2="1672.6" y2="347.9" stroke="#E8402B" stroke-width="2.6" stroke-linecap="round" stroke-opacity="0.45"/>
<line x1="1679.5" y1="147.3" x2="1679.5" y2="298" stroke="#E8402B" stroke-width="2.6" stroke-linecap="round" stroke-opacity="0.45"/>
<line x1="1684.8" y1="131.1" x2="1684.8" y2="278.7" stroke="#E8402B" stroke-width="2.6" stroke-linecap="round" stroke-opacity="0.45"/>
<line x1="1686.6" y1="211.3" x2="1686.6" y2="376.5" stroke="#E8402B" stroke-width="2.6" stroke-linecap="round" stroke-opacity="0.45"/>
<line x1="1700" y1="156" x2="1700" y2="335.2" stroke="#E8402B" stroke-width="2.6" stroke-linecap="round" stroke-opacity="0.45"/>
<line x1="1706.5" y1="171.3" x2="1706.5" y2="308.7" stroke="#E8402B" stroke-width="2.6" stroke-linecap="round" stroke-opacity="0.45"/>
<line x1="1709.5" y1="147.3" x2="1709.5" y2="329" stroke="#E8402B" stroke-width="2.6" stroke-linecap="round" stroke-opacity="0.45"/>
<line x1="1716.5" y1="146.6" x2="1716.5" y2="298.7" stroke="#E8402B" stroke-width="2.6" stroke-linecap="round" stroke-opacity="0.45"/>
<line x1="1727.9" y1="165.9" x2="1727.9" y2="338.7" stroke="#E8402B" stroke-width="2.6" stroke-linecap="round" stroke-opacity="0.45"/>
<line x1="1734.5" y1="153.5" x2="1734.5" y2="318.7" stroke="#E8402B" stroke-width="2.6" stroke-linecap="round" stroke-opacity="0.45"/>
<line x1="1741.6" y1="147.9" x2="1741.6" y2="338.7" stroke="#E8402B" stroke-width="2.6" stroke-linecap="round" stroke-opacity="0.45"/>
<line x1="1744" y1="221.3" x2="1744" y2="415" stroke="#E8402B" stroke-width="2.6" stroke-linecap="round" stroke-opacity="0.45"/>
<line x1="1763" y1="191.6" x2="1763" y2="405.1" stroke="#E8402B" stroke-width="2.6" stroke-linecap="round" stroke-opacity="0.45"/>
<line x1="1791.7" y1="239.4" x2="1791.7" y2="505.5" stroke="#E8402B" stroke-width="2.6" stroke-linecap="round" stroke-opacity="0.45"/>
<line x1="1804.1" y1="209.6" x2="1804.1" y2="425.8" stroke="#E8402B" stroke-width="2.6" stroke-linecap="round" stroke-opacity="0.45"/>
<line x1="1628.7" y1="152.3" x2="1628.7" y2="247.3" stroke="#E8402B" stroke-width="4.0" stroke-linecap="round"/>
<line x1="1646" y1="170.9" x2="1646" y2="268" stroke="#E8402B" stroke-width="4.0" stroke-linecap="round"/>
<line x1="1664.9" y1="139.9" x2="1664.9" y2="253" stroke="#E8402B" stroke-width="4.0" stroke-linecap="round"/>
<line x1="1669.3" y1="180.9" x2="1669.3" y2="319.6" stroke="#E8402B" stroke-width="4.0" stroke-linecap="round"/>
<line x1="1672.6" y1="202" x2="1672.6" y2="341" stroke="#E8402B" stroke-width="4.0" stroke-linecap="round"/>
<line x1="1679.5" y1="164.7" x2="1679.5" y2="283.6" stroke="#E8402B" stroke-width="4.0" stroke-linecap="round"/>
<line x1="1684.8" y1="138" x2="1684.8" y2="268" stroke="#E8402B" stroke-width="4.0" stroke-linecap="round"/>
<line x1="1686.6" y1="224" x2="1686.6" y2="362.7" stroke="#E8402B" stroke-width="4.0" stroke-linecap="round"/>
<line x1="1700" y1="174" x2="1700" y2="324.6" stroke="#E8402B" stroke-width="4.0" stroke-linecap="round"/>
<line x1="1706.5" y1="182" x2="1706.5" y2="298" stroke="#E8402B" stroke-width="4.0" stroke-linecap="round"/>
<line x1="1709.5" y1="162.2" x2="1709.5" y2="318.4" stroke="#E8402B" stroke-width="4.0" stroke-linecap="round"/>
<line x1="1716.5" y1="159.8" x2="1716.5" y2="288" stroke="#E8402B" stroke-width="4.0" stroke-linecap="round"/>
<line x1="1727.9" y1="173.4" x2="1727.9" y2="328" stroke="#E8402B" stroke-width="4.0" stroke-linecap="round"/>
<line x1="1734.5" y1="172.8" x2="1734.5" y2="308" stroke="#E8402B" stroke-width="4.0" stroke-linecap="round"/>
<line x1="1741.6" y1="167.2" x2="1741.6" y2="328" stroke="#E8402B" stroke-width="4.0" stroke-linecap="round"/>
<line x1="1744" y1="237" x2="1744" y2="402.5" stroke="#E8402B" stroke-width="4.0" stroke-linecap="round"/>
<line x1="1763" y1="207.8" x2="1763" y2="395.7" stroke="#E8402B" stroke-width="4.0" stroke-linecap="round"/>
<line x1="1791.7" y1="257" x2="1791.7" y2="490.4" stroke="#E8402B" stroke-width="4.0" stroke-linecap="round"/>
<line x1="1804.1" y1="222.8" x2="1804.1" y2="412.4" stroke="#E8402B" stroke-width="4.0" stroke-linecap="round"/>
<path d="M1628.7 197.3L1635 203.6L1628.7 209.9L1622.4 203.6Z" fill="#fff" stroke="#E8402B" stroke-width="3.8"/>
<path d="M1646 206.4L1652.3 212.7L1646 219L1639.7 212.7Z" fill="#fff" stroke="#E8402B" stroke-width="3.8"/>
<path d="M1664.9 190.6L1671.2 196.9L1664.9 203.2L1658.6 196.9Z" fill="#fff" stroke="#E8402B" stroke-width="3.8"/>
<path d="M1669.3 242.4L1675.6 248.7L1669.3 255L1663 248.7Z" fill="#fff" stroke="#E8402B" stroke-width="3.8"/>
<path d="M1672.6 262.5L1678.9 268.8L1672.6 275.1L1666.3 268.8Z" fill="#fff" stroke="#E8402B" stroke-width="3.8"/>
<path d="M1679.5 207L1685.8 213.3L1679.5 219.6L1673.2 213.3Z" fill="#fff" stroke="#E8402B" stroke-width="3.8"/>
<path d="M1684.8 193.7L1691.1 200L1684.8 206.3L1678.5 200Z" fill="#fff" stroke="#E8402B" stroke-width="3.8"/>
<path d="M1686.6 273.7L1692.9 280L1686.6 286.3L1680.3 280Z" fill="#fff" stroke="#E8402B" stroke-width="3.8"/>
<path d="M1700 246.1L1706.3 252.4L1700 258.7L1693.7 252.4Z" fill="#fff" stroke="#E8402B" stroke-width="3.8"/>
<path d="M1706.5 230.6L1712.8 236.9L1706.5 243.2L1700.2 236.9Z" fill="#fff" stroke="#E8402B" stroke-width="3.8"/>
<path d="M1709.5 239.9L1715.8 246.2L1709.5 252.5L1703.2 246.2Z" fill="#fff" stroke="#E8402B" stroke-width="3.8"/>
<path d="M1716.5 212L1722.8 218.3L1716.5 224.6L1710.2 218.3Z" fill="#fff" stroke="#E8402B" stroke-width="3.8"/>
<path d="M1727.9 243.7L1734.2 250L1727.9 256.3L1721.6 250Z" fill="#fff" stroke="#E8402B" stroke-width="3.8"/>
<path d="M1734.5 229.4L1740.8 235.7L1734.5 242L1728.2 235.7Z" fill="#fff" stroke="#E8402B" stroke-width="3.8"/>
<path d="M1741.6 239.9L1747.9 246.2L1741.6 252.5L1735.3 246.2Z" fill="#fff" stroke="#E8402B" stroke-width="3.8"/>
<path d="M1744 304.1L1750.3 310.4L1744 316.7L1737.7 310.4Z" fill="#fff" stroke="#E8402B" stroke-width="3.8"/>
<path d="M1763 294.2L1769.3 300.5L1763 306.8L1756.7 300.5Z" fill="#fff" stroke="#E8402B" stroke-width="3.8"/>
<path d="M1791.7 371.5L1798 377.8L1791.7 384.1L1785.4 377.8Z" fill="#fff" stroke="#E8402B" stroke-width="3.8"/>
<path d="M1804.1 311.8L1810.4 318.1L1804.1 324.4L1797.8 318.1Z" fill="#fff" stroke="#E8402B" stroke-width="3.8"/>
<line x1="1744.7" y1="141.1" x2="1744.7" y2="308.7" stroke="#5D2A8C" stroke-width="2.6" stroke-linecap="round" stroke-opacity="0.45"/>
<line x1="1744.7" y1="160.4" x2="1744.7" y2="298" stroke="#5D2A8C" stroke-width="4.0" stroke-linecap="round"/>
<path d="M1744.7 221.9L1751 228.2L1744.7 234.5L1738.4 228.2Z" fill="#fff" stroke="#5D2A8C" stroke-width="3.8"/>
<line x1="1652.3" y1="156" x2="1652.3" y2="281.7" stroke="#5D2A8C" stroke-width="2.6" stroke-linecap="round" stroke-opacity="0.45"/>
<line x1="1659.2" y1="146.6" x2="1659.2" y2="276.7" stroke="#5D2A8C" stroke-width="2.6" stroke-linecap="round" stroke-opacity="0.45"/>
<line x1="1682.8" y1="159.1" x2="1682.8" y2="298.7" stroke="#5D2A8C" stroke-width="2.6" stroke-linecap="round" stroke-opacity="0.45"/>
<line x1="1690.8" y1="161.5" x2="1690.8" y2="345.4" stroke="#5D2A8C" stroke-width="2.6" stroke-linecap="round" stroke-opacity="0.45"/>
<line x1="1687.9" y1="201.3" x2="1687.9" y2="343.7" stroke="#5D2A8C" stroke-width="2.6" stroke-linecap="round" stroke-opacity="0.45"/>
<line x1="1715.9" y1="154.7" x2="1715.9" y2="361.6" stroke="#5D2A8C" stroke-width="2.6" stroke-linecap="round" stroke-opacity="0.45"/>
<line x1="1720.5" y1="159.1" x2="1720.5" y2="328.7" stroke="#5D2A8C" stroke-width="2.6" stroke-linecap="round" stroke-opacity="0.45"/>
<line x1="1724.2" y1="159.1" x2="1724.2" y2="346.7" stroke="#5D2A8C" stroke-width="2.6" stroke-linecap="round" stroke-opacity="0.45"/>
<line x1="1728" y1="171.3" x2="1728" y2="377.1" stroke="#5D2A8C" stroke-width="2.6" stroke-linecap="round" stroke-opacity="0.45"/>
<line x1="1744.7" y1="201.3" x2="1744.7" y2="378.7" stroke="#5D2A8C" stroke-width="2.6" stroke-linecap="round" stroke-opacity="0.45"/>
<line x1="1752.9" y1="200.9" x2="1752.9" y2="406.3" stroke="#5D2A8C" stroke-width="2.6" stroke-linecap="round" stroke-opacity="0.45"/>
<line x1="1761.2" y1="179.6" x2="1761.2" y2="382.7" stroke="#5D2A8C" stroke-width="2.6" stroke-linecap="round" stroke-opacity="0.45"/>
<line x1="1771.5" y1="172.7" x2="1771.5" y2="360.7" stroke="#5D2A8C" stroke-width="2.6" stroke-linecap="round" stroke-opacity="0.45"/>
<line x1="1773.5" y1="251.3" x2="1773.5" y2="452.5" stroke="#5D2A8C" stroke-width="2.6" stroke-linecap="round" stroke-opacity="0.45"/>
<line x1="1778.7" y1="174.6" x2="1778.7" y2="382.1" stroke="#5D2A8C" stroke-width="2.6" stroke-linecap="round" stroke-opacity="0.45"/>
<line x1="1796.6" y1="207.1" x2="1796.6" y2="426.7" stroke="#5D2A8C" stroke-width="2.6" stroke-linecap="round" stroke-opacity="0.45"/>
<line x1="1798.5" y1="281.3" x2="1798.5" y2="497" stroke="#5D2A8C" stroke-width="2.6" stroke-linecap="round" stroke-opacity="0.45"/>
<line x1="1812.2" y1="193.5" x2="1812.2" y2="422.2" stroke="#5D2A8C" stroke-width="2.6" stroke-linecap="round" stroke-opacity="0.45"/>
<line x1="1821.7" y1="219.6" x2="1821.7" y2="487.9" stroke="#5D2A8C" stroke-width="2.6" stroke-linecap="round" stroke-opacity="0.45"/>
<line x1="1918.8" y1="259.7" x2="1918.8" y2="555.2" stroke="#5D2A8C" stroke-width="2.6" stroke-linecap="round" stroke-opacity="0.45"/>
<line x1="1652.3" y1="165.4" x2="1652.3" y2="273.7" stroke="#5D2A8C" stroke-width="4.0" stroke-linecap="round"/>
<line x1="1659.2" y1="162.2" x2="1659.2" y2="268.7" stroke="#5D2A8C" stroke-width="4.0" stroke-linecap="round"/>
<line x1="1682.8" y1="169.7" x2="1682.8" y2="288" stroke="#5D2A8C" stroke-width="4.0" stroke-linecap="round"/>
<line x1="1690.8" y1="180.3" x2="1690.8" y2="332" stroke="#5D2A8C" stroke-width="4.0" stroke-linecap="round"/>
<line x1="1687.9" y1="212" x2="1687.9" y2="332" stroke="#5D2A8C" stroke-width="4.0" stroke-linecap="round"/>
<line x1="1715.9" y1="167" x2="1715.9" y2="344.7" stroke="#5D2A8C" stroke-width="4.0" stroke-linecap="round"/>
<line x1="1720.5" y1="174" x2="1720.5" y2="316" stroke="#5D2A8C" stroke-width="4.0" stroke-linecap="round"/>
<line x1="1724.2" y1="174" x2="1724.2" y2="334" stroke="#5D2A8C" stroke-width="4.0" stroke-linecap="round"/>
<line x1="1728" y1="182" x2="1728" y2="364.6" stroke="#5D2A8C" stroke-width="4.0" stroke-linecap="round"/>
<line x1="1744.7" y1="217" x2="1744.7" y2="367.7" stroke="#5D2A8C" stroke-width="4.0" stroke-linecap="round"/>
<line x1="1752.9" y1="221.5" x2="1752.9" y2="393.8" stroke="#5D2A8C" stroke-width="4.0" stroke-linecap="round"/>
<line x1="1761.2" y1="203.5" x2="1761.2" y2="372.7" stroke="#5D2A8C" stroke-width="4.0" stroke-linecap="round"/>
<line x1="1771.5" y1="187.3" x2="1771.5" y2="348" stroke="#5D2A8C" stroke-width="4.0" stroke-linecap="round"/>
<line x1="1773.5" y1="267" x2="1773.5" y2="438.1" stroke="#5D2A8C" stroke-width="4.0" stroke-linecap="round"/>
<line x1="1778.7" y1="187.3" x2="1778.7" y2="367.1" stroke="#5D2A8C" stroke-width="4.0" stroke-linecap="round"/>
<line x1="1796.6" y1="221.5" x2="1796.6" y2="399.4" stroke="#5D2A8C" stroke-width="4.0" stroke-linecap="round"/>
<line x1="1798.5" y1="297" x2="1798.5" y2="477.9" stroke="#5D2A8C" stroke-width="4.0" stroke-linecap="round"/>
<line x1="1812.2" y1="213.4" x2="1812.2" y2="410" stroke="#5D2A8C" stroke-width="4.0" stroke-linecap="round"/>
<line x1="1821.7" y1="248.8" x2="1821.7" y2="475.4" stroke="#5D2A8C" stroke-width="4.0" stroke-linecap="round"/>
<line x1="1918.8" y1="288.4" x2="1918.8" y2="542" stroke="#5D2A8C" stroke-width="4.0" stroke-linecap="round"/>
<path d="M1652.3 211.7L1658.6 218L1652.3 224.3L1646 218Z" fill="#fff" stroke="#5D2A8C" stroke-width="3.8"/>
<path d="M1659.2 205.5L1665.5 211.8L1659.2 218.1L1652.9 211.8Z" fill="#fff" stroke="#5D2A8C" stroke-width="3.8"/>
<path d="M1682.8 220.4L1689.1 226.7L1682.8 233L1676.5 226.7Z" fill="#fff" stroke="#5D2A8C" stroke-width="3.8"/>
<path d="M1690.8 234.3L1697.1 240.6L1690.8 246.9L1684.5 240.6Z" fill="#fff" stroke="#5D2A8C" stroke-width="3.8"/>
<path d="M1687.9 258.8L1694.2 265.1L1687.9 271.4L1681.6 265.1Z" fill="#fff" stroke="#5D2A8C" stroke-width="3.8"/>
<path d="M1715.9 260L1722.2 266.3L1715.9 272.6L1709.6 266.3Z" fill="#fff" stroke="#5D2A8C" stroke-width="3.8"/>
<path d="M1720.5 239.9L1726.8 246.2L1720.5 252.5L1714.2 246.2Z" fill="#fff" stroke="#5D2A8C" stroke-width="3.8"/>
<path d="M1724.2 246.7L1730.5 253L1724.2 259.3L1717.9 253Z" fill="#fff" stroke="#5D2A8C" stroke-width="3.8"/>
<path d="M1728 283.7L1734.3 290L1728 296.3L1721.7 290Z" fill="#fff" stroke="#5D2A8C" stroke-width="3.8"/>
<path d="M1744.7 283.7L1751 290L1744.7 296.3L1738.4 290Z" fill="#fff" stroke="#5D2A8C" stroke-width="3.8"/>
<path d="M1752.9 299.8L1759.2 306.1L1752.9 312.4L1746.6 306.1Z" fill="#fff" stroke="#5D2A8C" stroke-width="3.8"/>
<path d="M1761.2 283.7L1767.5 290L1761.2 296.3L1754.9 290Z" fill="#fff" stroke="#5D2A8C" stroke-width="3.8"/>
<path d="M1771.5 262.5L1777.8 268.8L1771.5 275.1L1765.2 268.8Z" fill="#fff" stroke="#5D2A8C" stroke-width="3.8"/>
<path d="M1773.5 340.4L1779.8 346.7L1773.5 353L1767.2 346.7Z" fill="#fff" stroke="#5D2A8C" stroke-width="3.8"/>
<path d="M1778.7 271.8L1785 278.1L1778.7 284.4L1772.4 278.1Z" fill="#fff" stroke="#5D2A8C" stroke-width="3.8"/>
<path d="M1796.6 302.9L1802.9 309.2L1796.6 315.5L1790.3 309.2Z" fill="#fff" stroke="#5D2A8C" stroke-width="3.8"/>
<path d="M1798.5 366.3L1804.8 372.6L1798.5 378.9L1792.2 372.6Z" fill="#fff" stroke="#5D2A8C" stroke-width="3.8"/>
<path d="M1812.2 302.9L1818.5 309.2L1812.2 315.5L1805.9 309.2Z" fill="#fff" stroke="#5D2A8C" stroke-width="3.8"/>
<path d="M1821.7 356.6L1828 362.9L1821.7 369.2L1815.4 362.9Z" fill="#fff" stroke="#5D2A8C" stroke-width="3.8"/>
<path d="M1918.8 412.4L1925.1 418.7L1918.8 425L1912.5 418.7Z" fill="#fff" stroke="#5D2A8C" stroke-width="3.8"/>
</g>
<rect x="1460.4" y="13.8" width="579.4" height="587.9" fill="none" stroke="#1a1a1a" stroke-width="2.3"/>
<line x1="1530.6" y1="601.7" x2="1969.35" y2="601.7" stroke="#1a1a1a" stroke-width="3.3"/>
<path d="M1530.6 601.7v-9.5M1579.35 601.7v-9.5M1628.1 601.7v-9.5M1676.85 601.7v-9.5M1725.6 601.7v-9.5M1774.35 601.7v-9.5M1823.1 601.7v-9.5M1871.85 601.7v-9.5M1920.6 601.7v-9.5M1969.35 601.7v-9.5M1460.4 69.57h9.5M2039.8 69.57h-9.5M1460.4 137.6h9.5M2039.8 137.6h-9.5M1460.4 205.63h9.5M2039.8 205.63h-9.5M1460.4 273.66h9.5M2039.8 273.66h-9.5M1460.4 341.69h9.5M2039.8 341.69h-9.5M1460.4 409.72h9.5M2039.8 409.72h-9.5M1460.4 477.75h9.5M2039.8 477.75h-9.5M1460.4 545.78h9.5M2039.8 545.78h-9.5" stroke="#1a1a1a" stroke-width="2.3" fill="none"/>
<g font-size="32"><text x="1530.2" y="644" text-anchor="middle">0</text><text x="1578.95" y="644" text-anchor="middle">1</text><text x="1627.7" y="644" text-anchor="middle">2</text><text x="1676.45" y="644" text-anchor="middle">3</text><text x="1725.2" y="644" text-anchor="middle">4</text><text x="1773.95" y="644" text-anchor="middle">5</text><text x="1822.7" y="644" text-anchor="middle">6</text><text x="1871.45" y="644" text-anchor="middle">7</text><text x="1920.2" y="644" text-anchor="middle">8</text><text x="1968.95" y="644" text-anchor="middle">9</text></g>
<g font-size="32"><text x="1424.6" y="81.47" text-anchor="middle">10</text><text x="1427.1" y="149.5" text-anchor="middle">0</text><text x="1421.7" y="217.53" text-anchor="middle">-10</text><text x="1421.7" y="285.56" text-anchor="middle">-20</text><text x="1421.7" y="353.59" text-anchor="middle">-30</text><text x="1421.7" y="421.62" text-anchor="middle">-40</text><text x="1421.7" y="489.65" text-anchor="middle">-50</text><text x="1421.7" y="557.68" text-anchor="middle">-60</text></g>
<text x="1749.8" y="66.9" font-size="45" text-anchor="middle">2075</text>
<text x="1749.9" y="684.4" font-size="37" text-anchor="middle">Δ Temperature (°C)</text>
<g clip-path="url(#c3)">
<line x1="2127.5" y1="137.7" x2="2706.9" y2="137.7" stroke="#2b2b2b" stroke-width="2.2" stroke-dasharray="9 6.29" stroke-dashoffset="0.8"/>
<circle cx="2197.4" cy="137.5" r="5" fill="#000"/>
<line x1="2190.9" y1="123.4" x2="2190.9" y2="172" stroke="#3B8D2A" stroke-width="2.6" stroke-linecap="round" stroke-opacity="0.45"/>
<line x1="2208.3" y1="114.7" x2="2208.3" y2="265.4" stroke="#3B8D2A" stroke-width="2.6" stroke-linecap="round" stroke-opacity="0.45"/>
<line x1="2254.3" y1="130.2" x2="2254.3" y2="247.4" stroke="#3B8D2A" stroke-width="2.6" stroke-linecap="round" stroke-opacity="0.45"/>
<line x1="2259.3" y1="125.9" x2="2259.3" y2="230.7" stroke="#3B8D2A" stroke-width="2.6" stroke-linecap="round" stroke-opacity="0.45"/>
<line x1="2254.3" y1="151.3" x2="2254.3" y2="218.7" stroke="#3B8D2A" stroke-width="2.6" stroke-linecap="round" stroke-opacity="0.45"/>
<line x1="2256" y1="156.3" x2="2256" y2="228.7" stroke="#3B8D2A" stroke-width="2.6" stroke-linecap="round" stroke-opacity="0.45"/>
<line x1="2254.3" y1="161.3" x2="2254.3" y2="238.7" stroke="#3B8D2A" stroke-width="2.6" stroke-linecap="round" stroke-opacity="0.45"/>
<line x1="2256.5" y1="166.3" x2="2256.5" y2="243.7" stroke="#3B8D2A" stroke-width="2.6" stroke-linecap="round" stroke-opacity="0.45"/>
<line x1="2275" y1="101.1" x2="2275" y2="190.7" stroke="#3B8D2A" stroke-width="2.6" stroke-linecap="round" stroke-opacity="0.45"/>
<line x1="2275" y1="151.3" x2="2275" y2="226.7" stroke="#3B8D2A" stroke-width="2.6" stroke-linecap="round" stroke-opacity="0.45"/>
<line x1="2277.5" y1="131.5" x2="2277.5" y2="241.7" stroke="#3B8D2A" stroke-width="2.6" stroke-linecap="round" stroke-opacity="0.45"/>
<line x1="2283.7" y1="151.3" x2="2283.7" y2="233.1" stroke="#3B8D2A" stroke-width="2.6" stroke-linecap="round" stroke-opacity="0.45"/>
<line x1="2285.6" y1="138.9" x2="2285.6" y2="232.7" stroke="#3B8D2A" stroke-width="2.6" stroke-linecap="round" stroke-opacity="0.45"/>
<line x1="2296.5" y1="120.9" x2="2296.5" y2="241.2" stroke="#3B8D2A" stroke-width="2.6" stroke-linecap="round" stroke-opacity="0.45"/>
<line x1="2312.6" y1="134" x2="2312.6" y2="230.7" stroke="#3B8D2A" stroke-width="2.6" stroke-linecap="round" stroke-opacity="0.45"/>
<line x1="2317.6" y1="75.6" x2="2317.6" y2="223.7" stroke="#3B8D2A" stroke-width="2.6" stroke-linecap="round" stroke-opacity="0.45"/>
<line x1="2321" y1="181.3" x2="2321" y2="271.6" stroke="#3B8D2A" stroke-width="2.6" stroke-linecap="round" stroke-opacity="0.45"/>
<line x1="2333.1" y1="134.6" x2="2333.1" y2="288.4" stroke="#3B8D2A" stroke-width="2.6" stroke-linecap="round" stroke-opacity="0.45"/>
<line x1="2355.2" y1="154.7" x2="2355.2" y2="289" stroke="#3B8D2A" stroke-width="2.6" stroke-linecap="round" stroke-opacity="0.45"/>
<line x1="2360.4" y1="231.3" x2="2360.4" y2="358.2" stroke="#3B8D2A" stroke-width="2.6" stroke-linecap="round" stroke-opacity="0.45"/>
<line x1="2371.3" y1="193.9" x2="2371.3" y2="371.9" stroke="#3B8D2A" stroke-width="2.6" stroke-linecap="round" stroke-opacity="0.45"/>
<line x1="2190.9" y1="127.8" x2="2190.9" y2="165.7" stroke="#3B8D2A" stroke-width="4.0" stroke-linecap="round"/>
<line x1="2208.3" y1="129.7" x2="2208.3" y2="253.5" stroke="#3B8D2A" stroke-width="4.0" stroke-linecap="round"/>
<line x1="2254.3" y1="136.5" x2="2254.3" y2="239.9" stroke="#3B8D2A" stroke-width="4.0" stroke-linecap="round"/>
<line x1="2259.3" y1="139.6" x2="2259.3" y2="223" stroke="#3B8D2A" stroke-width="4.0" stroke-linecap="round"/>
<line x1="2254.3" y1="157" x2="2254.3" y2="213" stroke="#3B8D2A" stroke-width="4.0" stroke-linecap="round"/>
<line x1="2256" y1="162" x2="2256" y2="223" stroke="#3B8D2A" stroke-width="4.0" stroke-linecap="round"/>
<line x1="2254.3" y1="167" x2="2254.3" y2="233" stroke="#3B8D2A" stroke-width="4.0" stroke-linecap="round"/>
<line x1="2256.5" y1="172" x2="2256.5" y2="238" stroke="#3B8D2A" stroke-width="4.0" stroke-linecap="round"/>
<line x1="2275" y1="110.4" x2="2275" y2="183" stroke="#3B8D2A" stroke-width="4.0" stroke-linecap="round"/>
<line x1="2275" y1="158" x2="2275" y2="218" stroke="#3B8D2A" stroke-width="4.0" stroke-linecap="round"/>
<line x1="2277.5" y1="138" x2="2277.5" y2="234" stroke="#3B8D2A" stroke-width="4.0" stroke-linecap="round"/>
<line x1="2283.7" y1="158" x2="2283.7" y2="226" stroke="#3B8D2A" stroke-width="4.0" stroke-linecap="round"/>
<line x1="2285.6" y1="145" x2="2285.6" y2="226" stroke="#3B8D2A" stroke-width="4.0" stroke-linecap="round"/>
<line x1="2296.5" y1="127.8" x2="2296.5" y2="232.4" stroke="#3B8D2A" stroke-width="4.0" stroke-linecap="round"/>
<line x1="2312.6" y1="140" x2="2312.6" y2="223" stroke="#3B8D2A" stroke-width="4.0" stroke-linecap="round"/>
<line x1="2317.6" y1="88.7" x2="2317.6" y2="213" stroke="#3B8D2A" stroke-width="4.0" stroke-linecap="round"/>
<line x1="2321" y1="190" x2="2321" y2="261" stroke="#3B8D2A" stroke-width="4.0" stroke-linecap="round"/>
<line x1="2333.1" y1="142" x2="2333.1" y2="273.4" stroke="#3B8D2A" stroke-width="4.0" stroke-linecap="round"/>
<line x1="2355.2" y1="162.3" x2="2355.2" y2="280.9" stroke="#3B8D2A" stroke-width="4.0" stroke-linecap="round"/>
<line x1="2360.4" y1="242" x2="2360.4" y2="347.6" stroke="#3B8D2A" stroke-width="4.0" stroke-linecap="round"/>
<line x1="2371.3" y1="210.7" x2="2371.3" y2="357.5" stroke="#3B8D2A" stroke-width="4.0" stroke-linecap="round"/>
<path d="M2190.9 137.95L2198.35 150.85L2183.45 150.85Z" fill="#fff" stroke="#3B8D2A" stroke-width="3.8" stroke-linejoin="round"/>
<path d="M2208.3 179.85L2215.75 192.75L2200.85 192.75Z" fill="#fff" stroke="#3B8D2A" stroke-width="3.8" stroke-linejoin="round"/>
<path d="M2254.3 163.45L2261.75 176.35L2246.85 176.35Z" fill="#fff" stroke="#3B8D2A" stroke-width="3.8" stroke-linejoin="round"/>
<path d="M2259.3 169.05L2266.75 181.95L2251.85 181.95Z" fill="#fff" stroke="#3B8D2A" stroke-width="3.8" stroke-linejoin="round"/>
<path d="M2254.3 176.45L2261.75 189.35L2246.85 189.35Z" fill="#fff" stroke="#3B8D2A" stroke-width="3.8" stroke-linejoin="round"/>
<path d="M2256 183.45L2263.45 196.35L2248.55 196.35Z" fill="#fff" stroke="#3B8D2A" stroke-width="3.8" stroke-linejoin="round"/>
<path d="M2254.3 190.45L2261.75 203.35L2246.85 203.35Z" fill="#fff" stroke="#3B8D2A" stroke-width="3.8" stroke-linejoin="round"/>
<path d="M2256.5 196.45L2263.95 209.35L2249.05 209.35Z" fill="#fff" stroke="#3B8D2A" stroke-width="3.8" stroke-linejoin="round"/>
<path d="M2275 138.65L2282.45 151.55L2267.55 151.55Z" fill="#fff" stroke="#3B8D2A" stroke-width="3.8" stroke-linejoin="round"/>
<path d="M2275 177.75L2282.45 190.65L2267.55 190.65Z" fill="#fff" stroke="#3B8D2A" stroke-width="3.8" stroke-linejoin="round"/>
<path d="M2283.7 180.85L2291.15 193.75L2276.25 193.75Z" fill="#fff" stroke="#3B8D2A" stroke-width="3.8" stroke-linejoin="round"/>
<path d="M2296.5 171.55L2303.95 184.45L2289.05 184.45Z" fill="#fff" stroke="#3B8D2A" stroke-width="3.8" stroke-linejoin="round"/>
<path d="M2317.6 148.55L2325.05 161.45L2310.15 161.45Z" fill="#fff" stroke="#3B8D2A" stroke-width="3.8" stroke-linejoin="round"/>
<path d="M2333.1 203.25L2340.55 216.15L2325.65 216.15Z" fill="#fff" stroke="#3B8D2A" stroke-width="3.8" stroke-linejoin="round"/>
<path d="M2360.4 262.45L2367.85 275.35L2352.95 275.35Z" fill="#fff" stroke="#3B8D2A" stroke-width="3.8" stroke-linejoin="round"/>
<path d="M2371.3 268.45L2378.75 281.35L2363.85 281.35Z" fill="#fff" stroke="#3B8D2A" stroke-width="3.8" stroke-linejoin="round"/>
<line x1="2275.2" y1="164" x2="2275.2" y2="287.2" stroke="#E5AF3B" stroke-width="2.6" stroke-linecap="round" stroke-opacity="0.45"/>
<line x1="2309.2" y1="125.9" x2="2309.2" y2="246.7" stroke="#E5AF3B" stroke-width="2.6" stroke-linecap="round" stroke-opacity="0.45"/>
<line x1="2310" y1="161.3" x2="2310" y2="264.8" stroke="#E5AF3B" stroke-width="2.6" stroke-linecap="round" stroke-opacity="0.45"/>
<line x1="2316.8" y1="171.3" x2="2316.8" y2="304.2" stroke="#E5AF3B" stroke-width="2.6" stroke-linecap="round" stroke-opacity="0.45"/>
<line x1="2317.3" y1="181.3" x2="2317.3" y2="304.2" stroke="#E5AF3B" stroke-width="2.6" stroke-linecap="round" stroke-opacity="0.45"/>
<line x1="2328.9" y1="136.5" x2="2328.9" y2="380" stroke="#E5AF3B" stroke-width="2.6" stroke-linecap="round" stroke-opacity="0.45"/>
<line x1="2344.6" y1="161.6" x2="2344.6" y2="300.7" stroke="#E5AF3B" stroke-width="2.6" stroke-linecap="round" stroke-opacity="0.45"/>
<line x1="2348.6" y1="135.8" x2="2348.6" y2="306.7" stroke="#E5AF3B" stroke-width="2.6" stroke-linecap="round" stroke-opacity="0.45"/>
<line x1="2352.2" y1="135.8" x2="2352.2" y2="302.7" stroke="#E5AF3B" stroke-width="2.6" stroke-linecap="round" stroke-opacity="0.45"/>
<line x1="2348.3" y1="171.3" x2="2348.3" y2="306.7" stroke="#E5AF3B" stroke-width="2.6" stroke-linecap="round" stroke-opacity="0.45"/>
<line x1="2362" y1="159.7" x2="2362" y2="328.7" stroke="#E5AF3B" stroke-width="2.6" stroke-linecap="round" stroke-opacity="0.45"/>
<line x1="2365.5" y1="189.5" x2="2365.5" y2="369.4" stroke="#E5AF3B" stroke-width="2.6" stroke-linecap="round" stroke-opacity="0.45"/>
<line x1="2377.5" y1="167.1" x2="2377.5" y2="352.6" stroke="#E5AF3B" stroke-width="2.6" stroke-linecap="round" stroke-opacity="0.45"/>
<line x1="2374.2" y1="201.9" x2="2374.2" y2="417.5" stroke="#E5AF3B" stroke-width="2.6" stroke-linecap="round" stroke-opacity="0.45"/>
<line x1="2385" y1="149.8" x2="2385" y2="308.7" stroke="#E5AF3B" stroke-width="2.6" stroke-linecap="round" stroke-opacity="0.45"/>
<line x1="2400.3" y1="108.5" x2="2400.3" y2="310.7" stroke="#E5AF3B" stroke-width="2.6" stroke-linecap="round" stroke-opacity="0.45"/>
<line x1="2405.8" y1="144.8" x2="2405.8" y2="318.7" stroke="#E5AF3B" stroke-width="2.6" stroke-linecap="round" stroke-opacity="0.45"/>
<line x1="2424.1" y1="174.6" x2="2424.1" y2="376.7" stroke="#E5AF3B" stroke-width="2.6" stroke-linecap="round" stroke-opacity="0.45"/>
<line x1="2427" y1="241.3" x2="2427" y2="442.3" stroke="#E5AF3B" stroke-width="2.6" stroke-linecap="round" stroke-opacity="0.45"/>
<line x1="2440.5" y1="186.4" x2="2440.5" y2="370.7" stroke="#E5AF3B" stroke-width="2.6" stroke-linecap="round" stroke-opacity="0.45"/>
<line x1="2449.1" y1="231.3" x2="2449.1" y2="422.5" stroke="#E5AF3B" stroke-width="2.6" stroke-linecap="round" stroke-opacity="0.45"/>
<line x1="2275.2" y1="172.2" x2="2275.2" y2="277.8" stroke="#E5AF3B" stroke-width="4.0" stroke-linecap="round"/>
<line x1="2309.2" y1="133.4" x2="2309.2" y2="238" stroke="#E5AF3B" stroke-width="4.0" stroke-linecap="round"/>
<line x1="2310" y1="170" x2="2310" y2="256" stroke="#E5AF3B" stroke-width="4.0" stroke-linecap="round"/>
<line x1="2316.8" y1="180" x2="2316.8" y2="298" stroke="#E5AF3B" stroke-width="4.0" stroke-linecap="round"/>
<line x1="2317.3" y1="190" x2="2317.3" y2="298" stroke="#E5AF3B" stroke-width="4.0" stroke-linecap="round"/>
<line x1="2328.9" y1="157.3" x2="2328.9" y2="361.9" stroke="#E5AF3B" stroke-width="4.0" stroke-linecap="round"/>
<line x1="2344.6" y1="171" x2="2344.6" y2="294" stroke="#E5AF3B" stroke-width="4.0" stroke-linecap="round"/>
<line x1="2348.6" y1="150.5" x2="2348.6" y2="294" stroke="#E5AF3B" stroke-width="4.0" stroke-linecap="round"/>
<line x1="2352.2" y1="150.5" x2="2352.2" y2="296" stroke="#E5AF3B" stroke-width="4.0" stroke-linecap="round"/>
<line x1="2348.3" y1="182" x2="2348.3" y2="298" stroke="#E5AF3B" stroke-width="4.0" stroke-linecap="round"/>
<line x1="2362" y1="179" x2="2362" y2="318" stroke="#E5AF3B" stroke-width="4.0" stroke-linecap="round"/>
<line x1="2365.5" y1="203.9" x2="2365.5" y2="359.4" stroke="#E5AF3B" stroke-width="4.0" stroke-linecap="round"/>
<line x1="2377.5" y1="180.9" x2="2377.5" y2="344.5" stroke="#E5AF3B" stroke-width="4.0" stroke-linecap="round"/>
<line x1="2374.2" y1="217" x2="2374.2" y2="401.9" stroke="#E5AF3B" stroke-width="4.0" stroke-linecap="round"/>
<line x1="2385" y1="167" x2="2385" y2="298" stroke="#E5AF3B" stroke-width="4.0" stroke-linecap="round"/>
<line x1="2400.3" y1="133.4" x2="2400.3" y2="298" stroke="#E5AF3B" stroke-width="4.0" stroke-linecap="round"/>
<line x1="2405.8" y1="162.9" x2="2405.8" y2="308" stroke="#E5AF3B" stroke-width="4.0" stroke-linecap="round"/>
<line x1="2424.1" y1="186.5" x2="2424.1" y2="363" stroke="#E5AF3B" stroke-width="4.0" stroke-linecap="round"/>
<line x1="2427" y1="257" x2="2427" y2="426.7" stroke="#E5AF3B" stroke-width="4.0" stroke-linecap="round"/>
<line x1="2440.5" y1="198.9" x2="2440.5" y2="358" stroke="#E5AF3B" stroke-width="4.0" stroke-linecap="round"/>
<line x1="2449.1" y1="247" x2="2449.1" y2="408" stroke="#E5AF3B" stroke-width="4.0" stroke-linecap="round"/>
<path d="M2275.2 215.45L2282.65 228.35L2267.75 228.35Z" fill="#fff" stroke="#E5AF3B" stroke-width="3.8" stroke-linejoin="round"/>
<path d="M2309.2 170.95L2316.65 183.85L2301.75 183.85Z" fill="#fff" stroke="#E5AF3B" stroke-width="3.8" stroke-linejoin="round"/>
<path d="M2310 201.95L2317.45 214.85L2302.55 214.85Z" fill="#fff" stroke="#E5AF3B" stroke-width="3.8" stroke-linejoin="round"/>
<path d="M2316.8 215.25L2324.25 228.15L2309.35 228.15Z" fill="#fff" stroke="#E5AF3B" stroke-width="3.8" stroke-linejoin="round"/>
<path d="M2317.3 227.05L2324.75 239.95L2309.85 239.95Z" fill="#fff" stroke="#E5AF3B" stroke-width="3.8" stroke-linejoin="round"/>
<path d="M2328.9 247.55L2336.35 260.45L2321.45 260.45Z" fill="#fff" stroke="#E5AF3B" stroke-width="3.8" stroke-linejoin="round"/>
<path d="M2348.6 200.45L2356.05 213.35L2341.15 213.35Z" fill="#fff" stroke="#E5AF3B" stroke-width="3.8" stroke-linejoin="round"/>
<path d="M2352.2 216.45L2359.65 229.35L2344.75 229.35Z" fill="#fff" stroke="#E5AF3B" stroke-width="3.8" stroke-linejoin="round"/>
<path d="M2348.3 227.05L2355.75 239.95L2340.85 239.95Z" fill="#fff" stroke="#E5AF3B" stroke-width="3.8" stroke-linejoin="round"/>
<path d="M2362 230.85L2369.45 243.75L2354.55 243.75Z" fill="#fff" stroke="#E5AF3B" stroke-width="3.8" stroke-linejoin="round"/>
<path d="M2365.5 272.45L2372.95 285.35L2358.05 285.35Z" fill="#fff" stroke="#E5AF3B" stroke-width="3.8" stroke-linejoin="round"/>
<path d="M2377.5 251.25L2384.95 264.15L2370.05 264.15Z" fill="#fff" stroke="#E5AF3B" stroke-width="3.8" stroke-linejoin="round"/>
<path d="M2374.2 304.35L2381.65 317.25L2366.75 317.25Z" fill="#fff" stroke="#E5AF3B" stroke-width="3.8" stroke-linejoin="round"/>
<path d="M2400.3 196.65L2407.75 209.55L2392.85 209.55Z" fill="#fff" stroke="#E5AF3B" stroke-width="3.8" stroke-linejoin="round"/>
<path d="M2424.1 262.15L2431.55 275.05L2416.65 275.05Z" fill="#fff" stroke="#E5AF3B" stroke-width="3.8" stroke-linejoin="round"/>
<path d="M2427 324.45L2434.45 337.35L2419.55 337.35Z" fill="#fff" stroke="#E5AF3B" stroke-width="3.8" stroke-linejoin="round"/>
<path d="M2440.5 262.15L2447.95 275.05L2433.05 275.05Z" fill="#fff" stroke="#E5AF3B" stroke-width="3.8" stroke-linejoin="round"/>
<line x1="2387.3" y1="142.3" x2="2387.3" y2="310.7" stroke="#E8402B" stroke-width="2.6" stroke-linecap="round" stroke-opacity="0.45"/>
<line x1="2390" y1="171.3" x2="2390" y2="340.7" stroke="#E8402B" stroke-width="2.6" stroke-linecap="round" stroke-opacity="0.45"/>
<line x1="2394" y1="182.1" x2="2394" y2="409.4" stroke="#E8402B" stroke-width="2.6" stroke-linecap="round" stroke-opacity="0.45"/>
<line x1="2393" y1="194.5" x2="2393" y2="410.7" stroke="#E8402B" stroke-width="2.6" stroke-linecap="round" stroke-opacity="0.45"/>
<line x1="2399.5" y1="143.3" x2="2399.5" y2="333.7" stroke="#E8402B" stroke-width="2.6" stroke-linecap="round" stroke-opacity="0.45"/>
<line x1="2408.2" y1="156" x2="2408.2" y2="383.7" stroke="#E8402B" stroke-width="2.6" stroke-linecap="round" stroke-opacity="0.45"/>
<line x1="2408.6" y1="201.3" x2="2408.6" y2="429.9" stroke="#E8402B" stroke-width="2.6" stroke-linecap="round" stroke-opacity="0.45"/>
<line x1="2421.5" y1="235.7" x2="2421.5" y2="481.7" stroke="#E8402B" stroke-width="2.6" stroke-linecap="round" stroke-opacity="0.45"/>
<line x1="2429.7" y1="196.3" x2="2429.7" y2="402.6" stroke="#E8402B" stroke-width="2.6" stroke-linecap="round" stroke-opacity="0.45"/>
<line x1="2436.5" y1="197" x2="2436.5" y2="401.3" stroke="#E8402B" stroke-width="2.6" stroke-linecap="round" stroke-opacity="0.45"/>
<line x1="2438.6" y1="188.9" x2="2438.6" y2="403.7" stroke="#E8402B" stroke-width="2.6" stroke-linecap="round" stroke-opacity="0.45"/>
<line x1="2444.6" y1="206.3" x2="2444.6" y2="410.7" stroke="#E8402B" stroke-width="2.6" stroke-linecap="round" stroke-opacity="0.45"/>
<line x1="2452.7" y1="214.3" x2="2452.7" y2="443.7" stroke="#E8402B" stroke-width="2.6" stroke-linecap="round" stroke-opacity="0.45"/>
<line x1="2454.5" y1="216.3" x2="2454.5" y2="487.3" stroke="#E8402B" stroke-width="2.6" stroke-linecap="round" stroke-opacity="0.45"/>
<line x1="2459.1" y1="187" x2="2459.1" y2="393.7" stroke="#E8402B" stroke-width="2.6" stroke-linecap="round" stroke-opacity="0.45"/>
<line x1="2468.5" y1="247.3" x2="2468.5" y2="500.3" stroke="#E8402B" stroke-width="2.6" stroke-linecap="round" stroke-opacity="0.45"/>
<line x1="2512.8" y1="281.3" x2="2512.8" y2="513.7" stroke="#E8402B" stroke-width="2.6" stroke-linecap="round" stroke-opacity="0.45"/>
<line x1="2516.1" y1="301.3" x2="2516.1" y2="525.2" stroke="#E8402B" stroke-width="2.6" stroke-linecap="round" stroke-opacity="0.45"/>
<line x1="2521.4" y1="236.7" x2="2521.4" y2="507.8" stroke="#E8402B" stroke-width="2.6" stroke-linecap="round" stroke-opacity="0.45"/>
<line x1="2527.3" y1="227.4" x2="2527.3" y2="500.3" stroke="#E8402B" stroke-width="2.6" stroke-linecap="round" stroke-opacity="0.45"/>
<line x1="2554.5" y1="275.8" x2="2554.5" y2="570.3" stroke="#E8402B" stroke-width="2.6" stroke-linecap="round" stroke-opacity="0.45"/>
<line x1="2387.3" y1="154.8" x2="2387.3" y2="298" stroke="#E8402B" stroke-width="4.0" stroke-linecap="round"/>
<line x1="2390" y1="184" x2="2390" y2="328" stroke="#E8402B" stroke-width="4.0" stroke-linecap="round"/>
<line x1="2394" y1="210.1" x2="2394" y2="396.9" stroke="#E8402B" stroke-width="4.0" stroke-linecap="round"/>
<line x1="2393" y1="212" x2="2393" y2="398" stroke="#E8402B" stroke-width="4.0" stroke-linecap="round"/>
<line x1="2399.5" y1="158.5" x2="2399.5" y2="318" stroke="#E8402B" stroke-width="4.0" stroke-linecap="round"/>
<line x1="2408.2" y1="172.8" x2="2408.2" y2="368" stroke="#E8402B" stroke-width="4.0" stroke-linecap="round"/>
<line x1="2408.6" y1="217" x2="2408.6" y2="414.3" stroke="#E8402B" stroke-width="4.0" stroke-linecap="round"/>
<line x1="2421.5" y1="263.8" x2="2421.5" y2="469.8" stroke="#E8402B" stroke-width="4.0" stroke-linecap="round"/>
<line x1="2429.7" y1="215" x2="2429.7" y2="389.5" stroke="#E8402B" stroke-width="4.0" stroke-linecap="round"/>
<line x1="2436.5" y1="212" x2="2436.5" y2="390.7" stroke="#E8402B" stroke-width="4.0" stroke-linecap="round"/>
<line x1="2438.6" y1="207.6" x2="2438.6" y2="393" stroke="#E8402B" stroke-width="4.0" stroke-linecap="round"/>
<line x1="2444.6" y1="222" x2="2444.6" y2="398" stroke="#E8402B" stroke-width="4.0" stroke-linecap="round"/>
<line x1="2452.7" y1="230" x2="2452.7" y2="428" stroke="#E8402B" stroke-width="4.0" stroke-linecap="round"/>
<line x1="2454.5" y1="232" x2="2454.5" y2="472.3" stroke="#E8402B" stroke-width="4.0" stroke-linecap="round"/>
<line x1="2459.1" y1="200.8" x2="2459.1" y2="378" stroke="#E8402B" stroke-width="4.0" stroke-linecap="round"/>
<line x1="2468.5" y1="269.1" x2="2468.5" y2="479.8" stroke="#E8402B" stroke-width="4.0" stroke-linecap="round"/>
<line x1="2512.8" y1="302" x2="2512.8" y2="498" stroke="#E8402B" stroke-width="4.0" stroke-linecap="round"/>
<line x1="2516.1" y1="322" x2="2516.1" y2="511.4" stroke="#E8402B" stroke-width="4.0" stroke-linecap="round"/>
<line x1="2521.4" y1="262.9" x2="2521.4" y2="493.4" stroke="#E8402B" stroke-width="4.0" stroke-linecap="round"/>
<line x1="2527.3" y1="265.4" x2="2527.3" y2="484.1" stroke="#E8402B" stroke-width="4.0" stroke-linecap="round"/>
<line x1="2554.5" y1="299.8" x2="2554.5" y2="557.2" stroke="#E8402B" stroke-width="4.0" stroke-linecap="round"/>
<path d="M2387.3 214.25L2394.75 227.15L2379.85 227.15Z" fill="#fff" stroke="#E8402B" stroke-width="3.8" stroke-linejoin="round"/>
<path d="M2394 286.75L2401.45 299.65L2386.55 299.65Z" fill="#fff" stroke="#E8402B" stroke-width="3.8" stroke-linejoin="round"/>
<path d="M2393 299.95L2400.45 312.85L2385.55 312.85Z" fill="#fff" stroke="#E8402B" stroke-width="3.8" stroke-linejoin="round"/>
<path d="M2399.5 228.35L2406.95 241.25L2392.05 241.25Z" fill="#fff" stroke="#E8402B" stroke-width="3.8" stroke-linejoin="round"/>
<path d="M2408.2 256.85L2415.65 269.75L2400.75 269.75Z" fill="#fff" stroke="#E8402B" stroke-width="3.8" stroke-linejoin="round"/>
<path d="M2408.6 309.95L2416.05 322.85L2401.15 322.85Z" fill="#fff" stroke="#E8402B" stroke-width="3.8" stroke-linejoin="round"/>
<path d="M2421.5 360.85L2428.95 373.75L2414.05 373.75Z" fill="#fff" stroke="#E8402B" stroke-width="3.8" stroke-linejoin="round"/>
<path d="M2436.5 293.75L2443.95 306.65L2429.05 306.65Z" fill="#fff" stroke="#E8402B" stroke-width="3.8" stroke-linejoin="round"/>
<path d="M2452.7 319.25L2460.15 332.15L2445.25 332.15Z" fill="#fff" stroke="#E8402B" stroke-width="3.8" stroke-linejoin="round"/>
<path d="M2512.8 387.65L2520.25 400.55L2505.35 400.55Z" fill="#fff" stroke="#E8402B" stroke-width="3.8" stroke-linejoin="round"/>
<path d="M2527.3 370.45L2534.75 383.35L2519.85 383.35Z" fill="#fff" stroke="#E8402B" stroke-width="3.8" stroke-linejoin="round"/>
<path d="M2554.5 426.35L2561.95 439.25L2547.05 439.25Z" fill="#fff" stroke="#E8402B" stroke-width="3.8" stroke-linejoin="round"/>
<line x1="2575.2" y1="254.7" x2="2575.2" y2="553.7" stroke="#5D2A8C" stroke-width="2.6" stroke-linecap="round" stroke-opacity="0.45"/>
<line x1="2575.2" y1="280.3" x2="2575.2" y2="538" stroke="#5D2A8C" stroke-width="4.0" stroke-linecap="round"/>
<path d="M2575.2 399.95L2582.65 412.85L2567.75 412.85Z" fill="#fff" stroke="#5D2A8C" stroke-width="3.8" stroke-linejoin="round"/>
<line x1="2412.3" y1="195.7" x2="2412.3" y2="398.8" stroke="#5D2A8C" stroke-width="2.6" stroke-linecap="round" stroke-opacity="0.45"/>
<line x1="2448.9" y1="148.5" x2="2448.9" y2="343.7" stroke="#5D2A8C" stroke-width="2.6" stroke-linecap="round" stroke-opacity="0.45"/>
<line x1="2444.6" y1="231.3" x2="2444.6" y2="468.7" stroke="#5D2A8C" stroke-width="2.6" stroke-linecap="round" stroke-opacity="0.45"/>
<line x1="2458.5" y1="208.3" x2="2458.5" y2="418.7" stroke="#5D2A8C" stroke-width="2.6" stroke-linecap="round" stroke-opacity="0.45"/>
<line x1="2465.4" y1="208.8" x2="2465.4" y2="459.7" stroke="#5D2A8C" stroke-width="2.6" stroke-linecap="round" stroke-opacity="0.45"/>
<line x1="2471.1" y1="213.1" x2="2471.1" y2="443.7" stroke="#5D2A8C" stroke-width="2.6" stroke-linecap="round" stroke-opacity="0.45"/>
<line x1="2475" y1="215" x2="2475" y2="458.7" stroke="#5D2A8C" stroke-width="2.6" stroke-linecap="round" stroke-opacity="0.45"/>
<line x1="2477.8" y1="221.2" x2="2477.8" y2="460.7" stroke="#5D2A8C" stroke-width="2.6" stroke-linecap="round" stroke-opacity="0.45"/>
<line x1="2480.5" y1="207.5" x2="2480.5" y2="467.4" stroke="#5D2A8C" stroke-width="2.6" stroke-linecap="round" stroke-opacity="0.45"/>
<line x1="2490.8" y1="216.8" x2="2490.8" y2="503.7" stroke="#5D2A8C" stroke-width="2.6" stroke-linecap="round" stroke-opacity="0.45"/>
<line x1="2490.4" y1="261.3" x2="2490.4" y2="520.8" stroke="#5D2A8C" stroke-width="2.6" stroke-linecap="round" stroke-opacity="0.45"/>
<line x1="2499.1" y1="220.6" x2="2499.1" y2="463.7" stroke="#5D2A8C" stroke-width="2.6" stroke-linecap="round" stroke-opacity="0.45"/>
<line x1="2514.4" y1="230.5" x2="2514.4" y2="515.9" stroke="#5D2A8C" stroke-width="2.6" stroke-linecap="round" stroke-opacity="0.45"/>
<line x1="2518.3" y1="247.3" x2="2518.3" y2="502.2" stroke="#5D2A8C" stroke-width="2.6" stroke-linecap="round" stroke-opacity="0.45"/>
<line x1="2536" y1="252.2" x2="2536" y2="544.8" stroke="#5D2A8C" stroke-width="2.6" stroke-linecap="round" stroke-opacity="0.45"/>
<line x1="2542.9" y1="260.9" x2="2542.9" y2="562.2" stroke="#5D2A8C" stroke-width="2.6" stroke-linecap="round" stroke-opacity="0.45"/>
<line x1="2550.4" y1="233.6" x2="2550.4" y2="496.6" stroke="#5D2A8C" stroke-width="2.6" stroke-linecap="round" stroke-opacity="0.45"/>
<line x1="2575.3" y1="263.3" x2="2575.3" y2="566" stroke="#5D2A8C" stroke-width="2.6" stroke-linecap="round" stroke-opacity="0.45"/>
<line x1="2601.2" y1="269.6" x2="2601.2" y2="582.1" stroke="#5D2A8C" stroke-width="2.6" stroke-linecap="round" stroke-opacity="0.45"/>
<line x1="2616.8" y1="322.1" x2="2616.8" y2="653.7" stroke="#5D2A8C" stroke-width="2.6" stroke-linecap="round" stroke-opacity="0.45"/>
<line x1="2644.8" y1="294.7" x2="2644.8" y2="678.7" stroke="#5D2A8C" stroke-width="2.6" stroke-linecap="round" stroke-opacity="0.45"/>
<line x1="2412.3" y1="220" x2="2412.3" y2="386.3" stroke="#5D2A8C" stroke-width="4.0" stroke-linecap="round"/>
<line x1="2448.9" y1="169.7" x2="2448.9" y2="328" stroke="#5D2A8C" stroke-width="4.0" stroke-linecap="round"/>
<line x1="2444.6" y1="252" x2="2444.6" y2="456.5" stroke="#5D2A8C" stroke-width="4.0" stroke-linecap="round"/>
<line x1="2458.5" y1="217.5" x2="2458.5" y2="407.5" stroke="#5D2A8C" stroke-width="4.0" stroke-linecap="round"/>
<line x1="2465.4" y1="240.1" x2="2465.4" y2="446.6" stroke="#5D2A8C" stroke-width="4.0" stroke-linecap="round"/>
<line x1="2471.1" y1="235.5" x2="2471.1" y2="429.2" stroke="#5D2A8C" stroke-width="4.0" stroke-linecap="round"/>
<line x1="2475" y1="241.8" x2="2475" y2="446.6" stroke="#5D2A8C" stroke-width="4.0" stroke-linecap="round"/>
<line x1="2477.8" y1="245" x2="2477.8" y2="450" stroke="#5D2A8C" stroke-width="4.0" stroke-linecap="round"/>
<line x1="2480.5" y1="244.2" x2="2480.5" y2="454" stroke="#5D2A8C" stroke-width="4.0" stroke-linecap="round"/>
<line x1="2490.8" y1="251.1" x2="2490.8" y2="488" stroke="#5D2A8C" stroke-width="4.0" stroke-linecap="round"/>
<line x1="2490.4" y1="282" x2="2490.4" y2="505.2" stroke="#5D2A8C" stroke-width="4.0" stroke-linecap="round"/>
<line x1="2499.1" y1="244.9" x2="2499.1" y2="449.1" stroke="#5D2A8C" stroke-width="4.0" stroke-linecap="round"/>
<line x1="2514.4" y1="255.4" x2="2514.4" y2="500.3" stroke="#5D2A8C" stroke-width="4.0" stroke-linecap="round"/>
<line x1="2518.3" y1="267.8" x2="2518.3" y2="491.6" stroke="#5D2A8C" stroke-width="4.0" stroke-linecap="round"/>
<line x1="2536" y1="273.4" x2="2536" y2="530" stroke="#5D2A8C" stroke-width="4.0" stroke-linecap="round"/>
<line x1="2542.9" y1="284.9" x2="2542.9" y2="547.3" stroke="#5D2A8C" stroke-width="4.0" stroke-linecap="round"/>
<line x1="2550.4" y1="257.9" x2="2550.4" y2="484.1" stroke="#5D2A8C" stroke-width="4.0" stroke-linecap="round"/>
<line x1="2575.3" y1="287" x2="2575.3" y2="550.4" stroke="#5D2A8C" stroke-width="4.0" stroke-linecap="round"/>
<line x1="2601.2" y1="305.4" x2="2601.2" y2="567.1" stroke="#5D2A8C" stroke-width="4.0" stroke-linecap="round"/>
<line x1="2616.8" y1="356.3" x2="2616.8" y2="638" stroke="#5D2A8C" stroke-width="4.0" stroke-linecap="round"/>
<line x1="2644.8" y1="330.8" x2="2644.8" y2="658" stroke="#5D2A8C" stroke-width="4.0" stroke-linecap="round"/>
<path d="M2412.3 292.45L2419.75 305.35L2404.85 305.35Z" fill="#fff" stroke="#5D2A8C" stroke-width="3.8" stroke-linejoin="round"/>
<path d="M2448.9 238.25L2456.35 251.15L2441.45 251.15Z" fill="#fff" stroke="#5D2A8C" stroke-width="3.8" stroke-linejoin="round"/>
<path d="M2444.6 342.25L2452.05 355.15L2437.15 355.15Z" fill="#fff" stroke="#5D2A8C" stroke-width="3.8" stroke-linejoin="round"/>
<path d="M2458.5 301.25L2465.95 314.15L2451.05 314.15Z" fill="#fff" stroke="#5D2A8C" stroke-width="3.8" stroke-linejoin="round"/>
<path d="M2465.4 341.45L2472.85 354.35L2457.95 354.35Z" fill="#fff" stroke="#5D2A8C" stroke-width="3.8" stroke-linejoin="round"/>
<path d="M2471.1 321.75L2478.55 334.65L2463.65 334.65Z" fill="#fff" stroke="#5D2A8C" stroke-width="3.8" stroke-linejoin="round"/>
<path d="M2475 336.65L2482.45 349.55L2467.55 349.55Z" fill="#fff" stroke="#5D2A8C" stroke-width="3.8" stroke-linejoin="round"/>
<path d="M2477.8 340.45L2485.25 353.35L2470.35 353.35Z" fill="#fff" stroke="#5D2A8C" stroke-width="3.8" stroke-linejoin="round"/>
<path d="M2480.5 346.55L2487.95 359.45L2473.05 359.45Z" fill="#fff" stroke="#5D2A8C" stroke-width="3.8" stroke-linejoin="round"/>
<path d="M2490.8 362.45L2498.25 375.35L2483.35 375.35Z" fill="#fff" stroke="#5D2A8C" stroke-width="3.8" stroke-linejoin="round"/>
<path d="M2490.4 383.55L2497.85 396.45L2482.95 396.45Z" fill="#fff" stroke="#5D2A8C" stroke-width="3.8" stroke-linejoin="round"/>
<path d="M2499.1 338.85L2506.55 351.75L2491.65 351.75Z" fill="#fff" stroke="#5D2A8C" stroke-width="3.8" stroke-linejoin="round"/>
<path d="M2514.4 372.95L2521.85 385.85L2506.95 385.85Z" fill="#fff" stroke="#5D2A8C" stroke-width="3.8" stroke-linejoin="round"/>
<path d="M2518.3 372.45L2525.75 385.35L2510.85 385.35Z" fill="#fff" stroke="#5D2A8C" stroke-width="3.8" stroke-linejoin="round"/>
<path d="M2536 398.75L2543.45 411.65L2528.55 411.65Z" fill="#fff" stroke="#5D2A8C" stroke-width="3.8" stroke-linejoin="round"/>
<path d="M2542.9 409.55L2550.35 422.45L2535.45 422.45Z" fill="#fff" stroke="#5D2A8C" stroke-width="3.8" stroke-linejoin="round"/>
<path d="M2550.4 362.45L2557.85 375.35L2542.95 375.35Z" fill="#fff" stroke="#5D2A8C" stroke-width="3.8" stroke-linejoin="round"/>
<path d="M2575.3 417.05L2582.75 429.95L2567.85 429.95Z" fill="#fff" stroke="#5D2A8C" stroke-width="3.8" stroke-linejoin="round"/>
<path d="M2601.2 431.95L2608.65 444.85L2593.75 444.85Z" fill="#fff" stroke="#5D2A8C" stroke-width="3.8" stroke-linejoin="round"/>
<path d="M2616.8 508.55L2624.25 521.45L2609.35 521.45Z" fill="#fff" stroke="#5D2A8C" stroke-width="3.8" stroke-linejoin="round"/>
<path d="M2644.8 480.05L2652.25 492.95L2637.35 492.95Z" fill="#fff" stroke="#5D2A8C" stroke-width="3.8" stroke-linejoin="round"/>
</g>
<rect x="2127.5" y="13.8" width="579.4" height="587.9" fill="none" stroke="#1a1a1a" stroke-width="2.3"/>
<line x1="2197.7" y1="601.7" x2="2636.45" y2="601.7" stroke="#1a1a1a" stroke-width="3.3"/>
<path d="M2197.7 601.7v-9.5M2246.45 601.7v-9.5M2295.2 601.7v-9.5M2343.95 601.7v-9.5M2392.7 601.7v-9.5M2441.45 601.7v-9.5M2490.2 601.7v-9.5M2538.95 601.7v-9.5M2587.7 601.7v-9.5M2636.45 601.7v-9.5M2127.5 69.57h9.5M2706.9 69.57h-9.5M2127.5 137.6h9.5M2706.9 137.6h-9.5M2127.5 205.63h9.5M2706.9 205.63h-9.5M2127.5 273.66h9.5M2706.9 273.66h-9.5M2127.5 341.69h9.5M2706.9 341.69h-9.5M2127.5 409.72h9.5M2706.9 409.72h-9.5M2127.5 477.75h9.5M2706.9 477.75h-9.5M2127.5 545.78h9.5M2706.9 545.78h-9.5" stroke="#1a1a1a" stroke-width="2.3" fill="none"/>
<g font-size="32"><text x="2197.3" y="644" text-anchor="middle">0</text><text x="2246.05" y="644" text-anchor="middle">1</text><text x="2294.8" y="644" text-anchor="middle">2</text><text x="2343.55" y="644" text-anchor="middle">3</text><text x="2392.3" y="644" text-anchor="middle">4</text><text x="2441.05" y="644" text-anchor="middle">5</text><text x="2489.8" y="644" text-anchor="middle">6</text><text x="2538.55" y="644" text-anchor="middle">7</text><text x="2587.3" y="644" text-anchor="middle">8</text><text x="2636.05" y="644" text-anchor="middle">9</text></g>
<g font-size="32"><text x="2091.7" y="81.47" text-anchor="middle">10</text><text x="2094.2" y="149.5" text-anchor="middle">0</text><text x="2088.8" y="217.53" text-anchor="middle">-10</text><text x="2088.8" y="285.56" text-anchor="middle">-20</text><text x="2088.8" y="353.59" text-anchor="middle">-30</text><text x="2088.8" y="421.62" text-anchor="middle">-40</text><text x="2088.8" y="489.65" text-anchor="middle">-50</text><text x="2088.8" y="557.68" text-anchor="middle">-60</text><text x="2742.8" y="81.47" text-anchor="middle">10</text><text x="2738.8" y="149.5" text-anchor="middle">0</text><text x="2743.8" y="217.53" text-anchor="middle">-10</text><text x="2743.8" y="285.56" text-anchor="middle">-20</text><text x="2743.8" y="353.59" text-anchor="middle">-30</text><text x="2743.8" y="421.62" text-anchor="middle">-40</text><text x="2743.8" y="489.65" text-anchor="middle">-50</text><text x="2743.8" y="557.68" text-anchor="middle">-60</text></g>
<text x="2416.9" y="66.9" font-size="45" text-anchor="middle">2100</text>
<text x="2417" y="684.4" font-size="37" text-anchor="middle">Δ Temperature (°C)</text>
<text transform="translate(32.4 307.3) rotate(-90)" font-size="37" text-anchor="middle">Impact on TFP (%)</text>
<line x1="173.2" y1="432.3" x2="278.8" y2="432.3" stroke="#3B8D2A" stroke-width="2.2" stroke-opacity="0.45" stroke-linecap="round"/>
<line x1="188.4" y1="432.3" x2="267.2" y2="432.3" stroke="#3B8D2A" stroke-width="3.8" stroke-linecap="round"/>
<circle cx="227.8" cy="432.3" r="6.6" fill="#fff" stroke="#3B8D2A" stroke-width="3.4"/>
<text x="293" y="442" font-size="29">SSP1-2.6</text>
<line x1="173.2" y1="467.4" x2="278.8" y2="467.4" stroke="#E5AF3B" stroke-width="2.2" stroke-opacity="0.45" stroke-linecap="round"/>
<line x1="188.4" y1="467.4" x2="267.2" y2="467.4" stroke="#E5AF3B" stroke-width="3.8" stroke-linecap="round"/>
<circle cx="227.8" cy="467.4" r="6.6" fill="#fff" stroke="#E5AF3B" stroke-width="3.4"/>
<text x="293" y="477.1" font-size="29">SSP2-4.5</text>
<line x1="173.2" y1="502.6" x2="278.8" y2="502.6" stroke="#E8402B" stroke-width="2.2" stroke-opacity="0.45" stroke-linecap="round"/>
<line x1="188.4" y1="502.6" x2="267.2" y2="502.6" stroke="#E8402B" stroke-width="3.8" stroke-linecap="round"/>
<circle cx="227.8" cy="502.6" r="6.6" fill="#fff" stroke="#E8402B" stroke-width="3.4"/>
<text x="293" y="512.3" font-size="29">SSP3-7.0</text>
<line x1="173.2" y1="537.6" x2="278.8" y2="537.6" stroke="#5D2A8C" stroke-width="2.2" stroke-opacity="0.45" stroke-linecap="round"/>
<line x1="188.4" y1="537.6" x2="267.2" y2="537.6" stroke="#5D2A8C" stroke-width="3.8" stroke-linecap="round"/>
<circle cx="227.8" cy="537.6" r="6.6" fill="#fff" stroke="#5D2A8C" stroke-width="3.4"/>
<text x="293" y="547.3" font-size="29">SSP5-8.5</text>
</svg>
</body></html>
